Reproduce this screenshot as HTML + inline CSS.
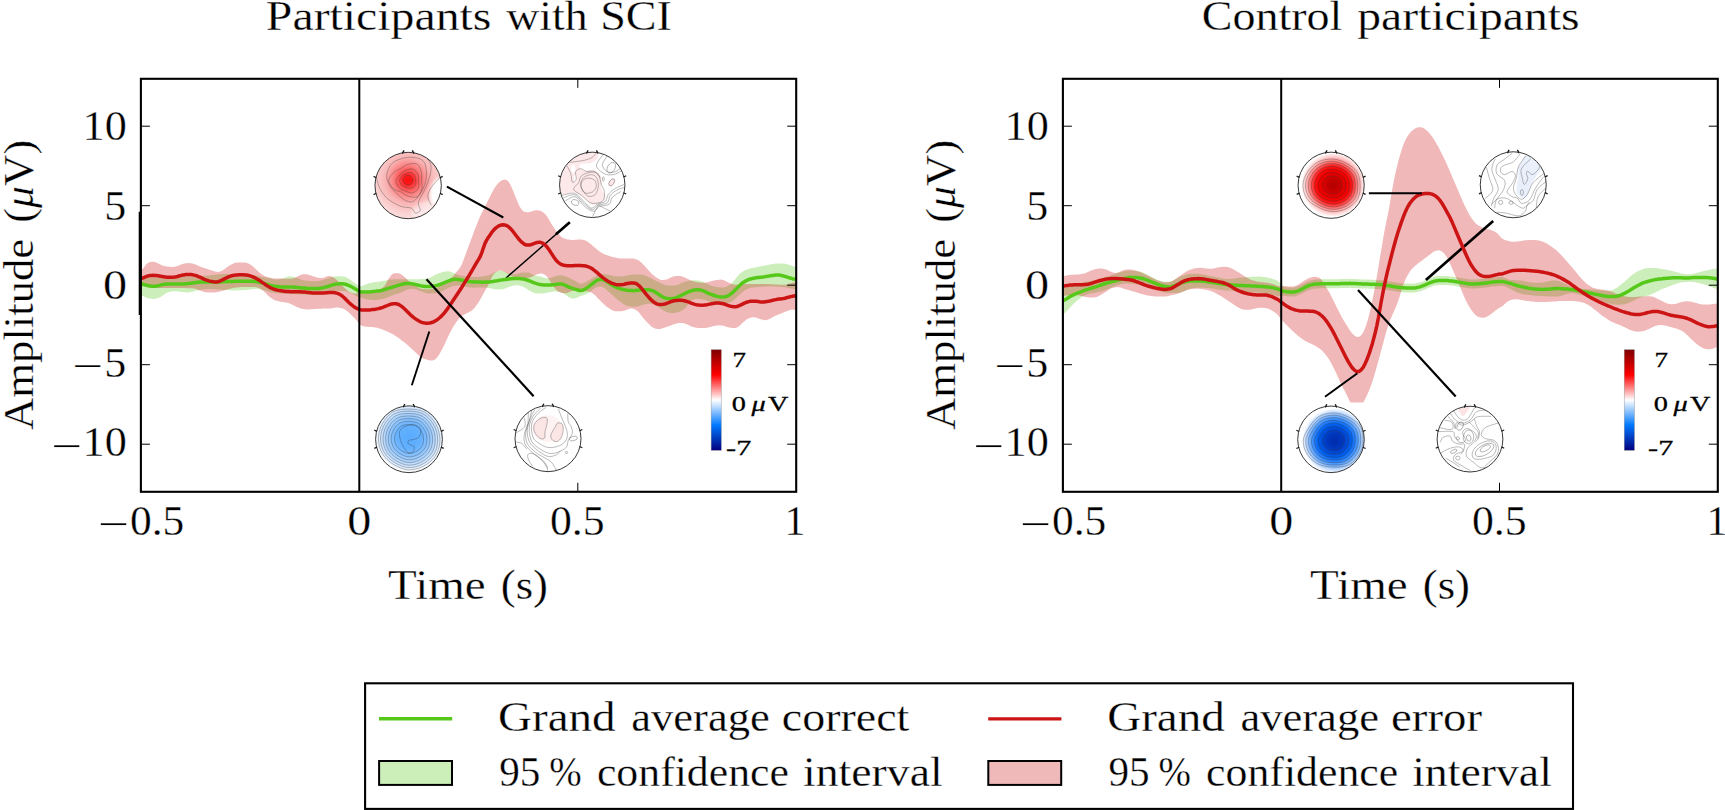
<!DOCTYPE html>
<html lang="en"><head><meta charset="utf-8"><title>ERP grand averages</title>
<style>
html,body{margin:0;padding:0;background:#fff;}
body{width:1725px;height:810px;overflow:hidden;}
svg{display:block;}
text{font-family:"Liberation Serif",serif;fill:#000;stroke:#fff;stroke-width:0.3px;}
.t{font-size:42px;}
.s{font-size:21.5px;stroke:#000;stroke-width:0.3px;}
.i{font-style:italic;}
</style></head><body>
<svg width="1725" height="810" viewBox="0 0 1725 810">
<defs>
<clipPath id="cl"><rect x="140.9" y="78.8" width="655.3" height="413.0"/></clipPath>
<clipPath id="cr"><rect x="1062.9" y="78.8" width="654.9" height="413.0"/></clipPath>
<clipPath id="crb"><rect x="1062.9" y="78.8" width="654.9" height="323.6"/></clipPath>
<linearGradient id="cb" x1="0" y1="0" x2="0" y2="1">
<stop offset="0" stop-color="#7f0000"/><stop offset="0.25" stop-color="#ff0000"/><stop offset="0.5" stop-color="#ffffff"/><stop offset="0.75" stop-color="#0078ff"/><stop offset="1" stop-color="#00007f"/>
</linearGradient>
</defs>
<rect width="1725" height="810" fill="#fff"/>

<g clip-path="url(#cl)">
<path d="M139.9,276.2 L141.4,276.2 L142.9,276.3 L144.4,276.5 L145.9,276.7 L147.4,276.9 L148.9,277.1 L150.4,277.3 L151.9,277.4 L153.4,277.5 L154.9,277.4 L156.4,277.3 L157.9,277.1 L159.4,277.0 L160.9,276.8 L162.4,276.6 L163.9,276.4 L165.4,276.3 L166.9,276.2 L168.4,276.2 L169.9,276.3 L171.4,276.3 L172.9,276.4 L174.4,276.5 L175.9,276.6 L177.4,276.7 L178.9,276.8 L180.4,276.8 L181.9,276.8 L183.4,276.8 L184.9,276.7 L186.4,276.7 L187.9,276.6 L189.4,276.5 L190.9,276.4 L192.4,276.3 L193.9,276.2 L195.4,276.1 L196.9,276.0 L198.4,276.0 L199.9,275.9 L201.4,275.8 L202.9,275.8 L204.4,275.7 L205.9,275.6 L207.4,275.5 L208.9,275.4 L210.4,275.2 L211.9,275.1 L213.4,274.9 L214.9,274.7 L216.4,274.5 L217.9,274.3 L219.4,274.2 L220.9,274.2 L222.4,274.1 L223.9,274.1 L225.4,274.1 L226.9,274.1 L228.4,274.1 L229.9,274.1 L231.4,274.1 L232.9,274.1 L234.4,274.1 L235.9,274.1 L237.4,274.2 L238.9,274.2 L240.4,274.2 L241.9,274.3 L243.4,274.3 L244.9,274.4 L246.4,274.4 L247.9,274.5 L249.4,274.6 L250.9,274.8 L252.4,275.0 L253.9,275.2 L255.4,275.5 L256.9,275.8 L258.4,276.1 L259.9,276.4 L261.4,276.7 L262.9,277.0 L264.4,277.3 L265.9,277.6 L267.4,277.9 L268.9,278.2 L270.4,278.6 L271.9,278.9 L273.4,279.2 L274.9,279.4 L276.4,279.5 L277.9,279.4 L279.4,279.2 L280.9,278.9 L282.4,278.6 L283.9,278.1 L285.4,277.5 L286.9,276.9 L288.4,276.5 L289.9,276.3 L291.4,276.4 L292.9,276.7 L294.4,277.1 L295.9,277.5 L297.4,278.0 L298.9,278.7 L300.4,279.3 L301.9,279.9 L303.4,280.2 L304.9,280.5 L306.4,280.7 L307.9,280.8 L309.4,281.0 L310.9,281.1 L312.4,281.2 L313.9,281.3 L315.4,281.3 L316.9,281.2 L318.4,281.1 L319.9,280.8 L321.4,280.5 L322.9,280.1 L324.4,279.6 L325.9,279.1 L327.4,278.5 L328.9,278.0 L330.4,277.5 L331.9,277.1 L333.4,276.7 L334.9,276.4 L336.4,276.3 L337.9,276.2 L339.4,276.2 L340.9,276.3 L342.4,276.4 L343.9,276.6 L345.4,277.0 L346.9,277.7 L348.4,278.5 L349.9,279.5 L351.4,280.5 L352.9,281.7 L354.4,282.8 L355.9,283.8 L357.4,284.8 L358.9,285.7 L360.4,286.2 L361.9,286.0 L363.4,285.5 L364.9,284.8 L366.4,284.2 L367.9,283.7 L369.4,283.2 L370.9,282.9 L372.4,282.6 L373.9,282.3 L375.4,282.1 L376.9,281.9 L378.4,281.7 L379.9,281.5 L381.4,281.3 L382.9,281.0 L384.4,280.7 L385.9,280.4 L387.4,280.1 L388.9,279.8 L390.4,279.6 L391.9,279.4 L393.4,279.3 L394.9,279.2 L396.4,279.2 L397.9,279.2 L399.4,279.2 L400.9,279.2 L402.4,279.2 L403.9,279.2 L405.4,279.2 L406.9,279.2 L408.4,279.2 L409.9,279.2 L411.4,279.2 L412.9,279.2 L414.4,279.2 L415.9,279.2 L417.4,279.2 L418.9,279.2 L420.4,279.2 L421.9,279.1 L423.4,279.1 L424.9,278.9 L426.4,278.7 L427.9,278.4 L429.4,277.9 L430.9,277.2 L432.4,276.4 L433.9,275.6 L435.4,274.8 L436.9,274.1 L438.4,273.5 L439.9,273.0 L441.4,272.5 L442.9,272.0 L444.4,271.7 L445.9,271.4 L447.4,271.2 L448.9,271.3 L450.4,271.7 L451.9,272.3 L453.4,273.0 L454.9,273.6 L456.4,274.2 L457.9,274.7 L459.4,275.2 L460.9,275.6 L462.4,275.8 L463.9,276.0 L465.4,276.2 L466.9,276.3 L468.4,276.5 L469.9,276.6 L471.4,276.8 L472.9,277.0 L474.4,277.1 L475.9,277.1 L477.4,277.0 L478.9,276.9 L480.4,276.7 L481.9,276.5 L483.4,276.3 L484.9,276.0 L486.4,275.7 L487.9,275.4 L489.4,274.9 L490.9,274.2 L492.4,273.4 L493.9,272.6 L495.4,272.0 L496.9,271.5 L498.4,271.1 L499.9,270.9 L501.4,270.8 L502.9,271.1 L504.4,271.5 L505.9,272.1 L507.4,272.7 L508.9,273.4 L510.4,273.9 L511.9,274.2 L513.4,274.3 L514.9,274.2 L516.4,273.9 L517.9,273.6 L519.4,273.2 L520.9,272.8 L522.4,272.6 L523.9,272.4 L525.4,272.4 L526.9,272.4 L528.4,272.6 L529.9,273.1 L531.4,273.8 L532.9,274.6 L534.4,275.2 L535.9,275.6 L537.4,275.9 L538.9,276.2 L540.4,276.5 L541.9,276.9 L543.4,277.5 L544.9,277.9 L546.4,278.3 L547.9,278.3 L549.4,278.1 L550.9,277.7 L552.4,277.3 L553.9,276.8 L555.4,276.2 L556.9,275.7 L558.4,275.4 L559.9,275.3 L561.4,275.3 L562.9,275.6 L564.4,275.9 L565.9,276.4 L567.4,276.9 L568.9,277.6 L570.4,278.4 L571.9,279.2 L573.4,279.9 L574.9,280.7 L576.4,281.5 L577.9,282.5 L579.4,283.4 L580.9,283.8 L582.4,283.5 L583.9,282.9 L585.4,282.2 L586.9,281.4 L588.4,280.6 L589.9,279.7 L591.4,278.7 L592.9,277.8 L594.4,276.9 L595.9,276.0 L597.4,275.2 L598.9,274.6 L600.4,274.2 L601.9,274.1 L603.4,274.1 L604.9,274.2 L606.4,274.4 L607.9,274.6 L609.4,274.9 L610.9,275.3 L612.4,275.7 L613.9,276.0 L615.4,276.2 L616.9,276.4 L618.4,276.6 L619.9,276.6 L621.4,276.6 L622.9,276.4 L624.4,276.1 L625.9,275.7 L627.4,275.4 L628.9,275.1 L630.4,274.9 L631.9,274.6 L633.4,274.5 L634.9,274.4 L636.4,274.4 L637.9,274.4 L639.4,274.4 L640.9,274.5 L642.4,274.7 L643.9,275.1 L645.4,275.7 L646.9,276.3 L648.4,277.0 L649.9,277.7 L651.4,278.4 L652.9,279.2 L654.4,280.0 L655.9,280.8 L657.4,281.5 L658.9,282.3 L660.4,283.0 L661.9,283.7 L663.4,284.3 L664.9,284.8 L666.4,285.2 L667.9,285.4 L669.4,285.5 L670.9,285.5 L672.4,285.5 L673.9,285.5 L675.4,285.4 L676.9,285.0 L678.4,284.4 L679.9,283.8 L681.4,283.1 L682.9,282.5 L684.4,282.0 L685.9,281.5 L687.4,281.1 L688.9,280.8 L690.4,280.6 L691.9,280.4 L693.4,280.2 L694.9,280.2 L696.4,280.2 L697.9,280.4 L699.4,280.7 L700.9,281.1 L702.4,281.6 L703.9,282.3 L705.4,283.0 L706.9,283.8 L708.4,284.5 L709.9,285.2 L711.4,285.7 L712.9,286.2 L714.4,286.6 L715.9,286.9 L717.4,287.1 L718.9,287.3 L720.4,287.5 L721.9,287.5 L723.4,287.4 L724.9,287.2 L726.4,286.7 L727.9,286.1 L729.4,285.3 L730.9,284.1 L732.4,282.6 L733.9,280.8 L735.4,278.9 L736.9,277.0 L738.4,275.2 L739.9,273.8 L741.4,272.5 L742.9,271.4 L744.4,270.6 L745.9,269.9 L747.4,269.3 L748.9,268.9 L750.4,268.4 L751.9,268.1 L753.4,267.8 L754.9,267.5 L756.4,267.2 L757.9,266.9 L759.4,266.6 L760.9,266.3 L762.4,266.0 L763.9,265.7 L765.4,265.4 L766.9,265.1 L768.4,264.8 L769.9,264.5 L771.4,264.3 L772.9,264.0 L774.4,263.8 L775.9,263.6 L777.4,263.6 L778.9,263.6 L780.4,263.6 L781.9,263.6 L783.4,263.6 L784.9,263.7 L786.4,264.0 L787.9,264.4 L789.4,264.9 L790.9,265.4 L792.4,266.0 L793.9,266.6 L795.4,267.0 L796.9,267.2 L798.4,267.2 L798.4,289.2 L796.9,289.2 L795.4,289.1 L793.9,289.0 L792.4,288.8 L790.9,288.5 L789.4,288.2 L787.9,287.9 L786.4,287.6 L784.9,287.3 L783.4,287.2 L781.9,287.0 L780.4,286.9 L778.9,286.8 L777.4,286.7 L775.9,286.6 L774.4,286.6 L772.9,286.5 L771.4,286.5 L769.9,286.5 L768.4,286.5 L766.9,286.5 L765.4,286.6 L763.9,286.7 L762.4,286.8 L760.9,286.8 L759.4,286.9 L757.9,287.1 L756.4,287.2 L754.9,287.3 L753.4,287.5 L751.9,287.7 L750.4,288.1 L748.9,288.5 L747.4,289.1 L745.9,289.8 L744.4,290.7 L742.9,291.8 L741.4,293.0 L739.9,294.4 L738.4,295.8 L736.9,297.3 L735.4,298.8 L733.9,300.0 L732.4,301.1 L730.9,302.0 L729.4,302.6 L727.9,303.1 L726.4,303.3 L724.9,303.5 L723.4,303.7 L721.9,303.7 L720.4,303.7 L718.9,303.6 L717.4,303.5 L715.9,303.4 L714.4,303.1 L712.9,302.7 L711.4,302.3 L709.9,301.7 L708.4,301.2 L706.9,300.7 L705.4,300.2 L703.9,299.8 L702.4,299.5 L700.9,299.2 L699.4,299.0 L697.9,298.9 L696.4,298.8 L694.9,299.0 L693.4,299.6 L691.9,300.6 L690.4,301.9 L688.9,303.6 L687.4,305.5 L685.9,307.3 L684.4,308.7 L682.9,309.9 L681.4,310.8 L679.9,311.5 L678.4,312.1 L676.9,312.6 L675.4,312.8 L673.9,312.9 L672.4,313.0 L670.9,312.9 L669.4,312.8 L667.9,312.5 L666.4,311.9 L664.9,311.2 L663.4,310.4 L661.9,309.6 L660.4,308.6 L658.9,307.6 L657.4,306.5 L655.9,305.5 L654.4,304.7 L652.9,304.2 L651.4,304.0 L649.9,303.8 L648.4,303.8 L646.9,303.9 L645.4,304.2 L643.9,304.6 L642.4,305.1 L640.9,305.5 L639.4,305.9 L637.9,306.3 L636.4,306.6 L634.9,306.7 L633.4,306.8 L631.9,306.7 L630.4,306.6 L628.9,306.3 L627.4,306.0 L625.9,305.4 L624.4,304.6 L622.9,303.7 L621.4,302.6 L619.9,301.5 L618.4,300.3 L616.9,299.0 L615.4,297.8 L613.9,296.4 L612.4,295.1 L610.9,293.8 L609.4,292.5 L607.9,291.2 L606.4,289.8 L604.9,288.5 L603.4,287.4 L601.9,286.8 L600.4,286.6 L598.9,286.8 L597.4,287.0 L595.9,287.5 L594.4,288.4 L592.9,289.5 L591.4,290.7 L589.9,291.9 L588.4,292.9 L586.9,293.8 L585.4,294.5 L583.9,295.0 L582.4,295.4 L580.9,295.8 L579.4,296.4 L577.9,297.2 L576.4,298.0 L574.9,298.5 L573.4,298.6 L571.9,298.4 L570.4,297.9 L568.9,297.2 L567.4,296.3 L565.9,295.1 L564.4,294.1 L562.9,293.2 L561.4,292.5 L559.9,292.0 L558.4,291.7 L556.9,291.5 L555.4,291.5 L553.9,291.6 L552.4,291.8 L550.9,292.0 L549.4,292.3 L547.9,292.6 L546.4,292.9 L544.9,293.2 L543.4,293.4 L541.9,293.4 L540.4,293.5 L538.9,293.4 L537.4,293.4 L535.9,293.3 L534.4,292.9 L532.9,292.3 L531.4,291.6 L529.9,290.8 L528.4,289.9 L526.9,289.0 L525.4,288.0 L523.9,287.2 L522.4,286.5 L520.9,286.0 L519.4,285.6 L517.9,285.3 L516.4,285.2 L514.9,285.2 L513.4,285.5 L511.9,285.9 L510.4,286.4 L508.9,286.9 L507.4,287.6 L505.9,288.3 L504.4,288.8 L502.9,289.2 L501.4,289.3 L499.9,289.4 L498.4,289.4 L496.9,289.4 L495.4,289.3 L493.9,289.1 L492.4,288.8 L490.9,288.4 L489.4,288.1 L487.9,287.9 L486.4,287.7 L484.9,287.5 L483.4,287.4 L481.9,287.4 L480.4,287.4 L478.9,287.5 L477.4,287.6 L475.9,287.7 L474.4,287.7 L472.9,287.7 L471.4,287.6 L469.9,287.4 L468.4,287.2 L466.9,286.9 L465.4,286.4 L463.9,286.0 L462.4,285.7 L460.9,285.6 L459.4,285.6 L457.9,285.6 L456.4,285.6 L454.9,285.7 L453.4,286.0 L451.9,286.4 L450.4,287.1 L448.9,287.7 L447.4,288.5 L445.9,289.2 L444.4,290.0 L442.9,290.7 L441.4,291.4 L439.9,292.0 L438.4,292.6 L436.9,293.0 L435.4,293.3 L433.9,293.4 L432.4,293.4 L430.9,293.5 L429.4,293.4 L427.9,293.4 L426.4,293.2 L424.9,292.8 L423.4,292.3 L421.9,291.7 L420.4,291.1 L418.9,290.4 L417.4,289.7 L415.9,289.2 L414.4,288.9 L412.9,288.8 L411.4,288.9 L409.9,289.1 L408.4,289.3 L406.9,289.7 L405.4,290.3 L403.9,291.1 L402.4,291.9 L400.9,292.6 L399.4,293.2 L397.9,293.7 L396.4,294.1 L394.9,294.5 L393.4,295.1 L391.9,295.6 L390.4,296.2 L388.9,296.8 L387.4,297.4 L385.9,298.0 L384.4,298.5 L382.9,299.0 L381.4,299.3 L379.9,299.6 L378.4,299.7 L376.9,299.8 L375.4,299.9 L373.9,299.9 L372.4,299.9 L370.9,299.9 L369.4,299.8 L367.9,299.6 L366.4,299.4 L364.9,299.1 L363.4,298.6 L361.9,298.2 L360.4,297.7 L358.9,297.2 L357.4,296.6 L355.9,295.9 L354.4,295.1 L352.9,294.3 L351.4,293.5 L349.9,292.8 L348.4,292.2 L346.9,291.6 L345.4,291.2 L343.9,291.0 L342.4,290.9 L340.9,290.8 L339.4,290.8 L337.9,290.9 L336.4,290.9 L334.9,291.2 L333.4,291.5 L331.9,291.9 L330.4,292.4 L328.9,292.9 L327.4,293.3 L325.9,293.8 L324.4,294.2 L322.9,294.5 L321.4,294.8 L319.9,294.9 L318.4,295.1 L316.9,295.1 L315.4,295.2 L313.9,295.1 L312.4,295.1 L310.9,295.0 L309.4,294.9 L307.9,294.8 L306.4,294.7 L304.9,294.6 L303.4,294.5 L301.9,294.5 L300.4,294.4 L298.9,294.3 L297.4,294.2 L295.9,294.2 L294.4,294.1 L292.9,294.0 L291.4,293.9 L289.9,293.9 L288.4,293.8 L286.9,293.7 L285.4,293.7 L283.9,293.6 L282.4,293.5 L280.9,293.5 L279.4,293.4 L277.9,293.3 L276.4,293.2 L274.9,293.0 L273.4,292.8 L271.9,292.5 L270.4,292.1 L268.9,291.7 L267.4,291.3 L265.9,290.8 L264.4,290.4 L262.9,290.0 L261.4,289.6 L259.9,289.3 L258.4,289.0 L256.9,288.8 L255.4,288.8 L253.9,288.9 L252.4,289.1 L250.9,289.4 L249.4,289.6 L247.9,289.8 L246.4,289.9 L244.9,290.0 L243.4,290.1 L241.9,290.2 L240.4,290.3 L238.9,290.3 L237.4,290.4 L235.9,290.4 L234.4,290.4 L232.9,290.4 L231.4,290.3 L229.9,290.3 L228.4,290.2 L226.9,290.1 L225.4,290.0 L223.9,289.9 L222.4,289.8 L220.9,289.7 L219.4,289.6 L217.9,289.5 L216.4,289.4 L214.9,289.3 L213.4,289.3 L211.9,289.2 L210.4,289.1 L208.9,289.1 L207.4,289.1 L205.9,289.2 L204.4,289.3 L202.9,289.5 L201.4,289.7 L199.9,290.0 L198.4,290.2 L196.9,290.6 L195.4,290.9 L193.9,291.2 L192.4,291.6 L190.9,291.9 L189.4,292.2 L187.9,292.4 L186.4,292.4 L184.9,292.3 L183.4,292.1 L181.9,291.9 L180.4,291.7 L178.9,291.5 L177.4,291.4 L175.9,291.2 L174.4,291.2 L172.9,291.2 L171.4,291.4 L169.9,291.7 L168.4,292.2 L166.9,292.8 L165.4,293.6 L163.9,294.7 L162.4,295.8 L160.9,296.8 L159.4,297.5 L157.9,298.1 L156.4,298.5 L154.9,298.8 L153.4,298.9 L151.9,298.8 L150.4,298.6 L148.9,298.4 L147.4,297.9 L145.9,297.4 L144.4,296.6 L142.9,295.9 L141.4,295.4 L139.9,295.2Z" fill="#55c81a" fill-opacity="0.3"/>
<path d="M139.9,270.6 L141.4,270.1 L142.9,268.8 L144.4,266.7 L145.9,264.7 L147.4,263.3 L148.9,262.5 L150.4,262.0 L151.9,261.8 L153.4,261.7 L154.9,262.0 L156.4,262.5 L157.9,263.3 L159.4,264.1 L160.9,264.8 L162.4,265.4 L163.9,265.9 L165.4,266.3 L166.9,266.6 L168.4,266.7 L169.9,266.8 L171.4,266.9 L172.9,266.9 L174.4,266.8 L175.9,266.5 L177.4,265.9 L178.9,265.4 L180.4,264.8 L181.9,264.3 L183.4,263.8 L184.9,263.4 L186.4,263.2 L187.9,263.1 L189.4,263.2 L190.9,263.3 L192.4,263.6 L193.9,263.9 L195.4,264.4 L196.9,265.0 L198.4,265.7 L199.9,266.4 L201.4,267.0 L202.9,267.5 L204.4,268.0 L205.9,268.5 L207.4,269.0 L208.9,269.5 L210.4,270.0 L211.9,270.5 L213.4,271.0 L214.9,271.4 L216.4,271.7 L217.9,271.9 L219.4,271.8 L220.9,271.3 L222.4,270.5 L223.9,269.5 L225.4,268.5 L226.9,267.3 L228.4,266.2 L229.9,265.2 L231.4,264.4 L232.9,263.7 L234.4,263.1 L235.9,262.8 L237.4,262.6 L238.9,262.4 L240.4,262.4 L241.9,262.4 L243.4,262.4 L244.9,262.6 L246.4,262.8 L247.9,263.3 L249.4,264.0 L250.9,264.9 L252.4,266.0 L253.9,267.3 L255.4,268.7 L256.9,270.2 L258.4,271.6 L259.9,272.9 L261.4,274.1 L262.9,275.1 L264.4,275.9 L265.9,276.5 L267.4,277.0 L268.9,277.5 L270.4,277.8 L271.9,278.1 L273.4,278.4 L274.9,278.5 L276.4,278.6 L277.9,278.6 L279.4,278.6 L280.9,278.6 L282.4,278.6 L283.9,278.7 L285.4,278.7 L286.9,278.8 L288.4,278.8 L289.9,278.8 L291.4,278.7 L292.9,278.4 L294.4,278.0 L295.9,277.4 L297.4,276.6 L298.9,275.7 L300.4,275.0 L301.9,274.6 L303.4,274.3 L304.9,274.2 L306.4,274.3 L307.9,274.6 L309.4,275.0 L310.9,275.5 L312.4,276.0 L313.9,276.6 L315.4,277.1 L316.9,277.5 L318.4,277.8 L319.9,278.0 L321.4,278.1 L322.9,277.8 L324.4,277.4 L325.9,276.8 L327.4,276.3 L328.9,276.1 L330.4,276.2 L331.9,276.6 L333.4,277.4 L334.9,278.5 L336.4,279.7 L337.9,281.1 L339.4,282.6 L340.9,284.2 L342.4,285.8 L343.9,287.3 L345.4,288.8 L346.9,290.1 L348.4,291.2 L349.9,292.2 L351.4,292.8 L352.9,293.3 L354.4,293.5 L355.9,293.5 L357.4,293.1 L358.9,292.1 L360.4,291.2 L361.9,290.8 L363.4,290.7 L364.9,290.7 L366.4,290.7 L367.9,290.7 L369.4,290.7 L370.9,290.7 L372.4,290.7 L373.9,290.7 L375.4,290.5 L376.9,290.2 L378.4,289.8 L379.9,289.2 L381.4,288.5 L382.9,287.5 L384.4,286.0 L385.9,283.8 L387.4,281.0 L388.9,278.3 L390.4,276.2 L391.9,274.6 L393.4,273.6 L394.9,273.2 L396.4,273.2 L397.9,273.3 L399.4,273.6 L400.9,274.2 L402.4,275.2 L403.9,276.4 L405.4,277.8 L406.9,279.2 L408.4,280.7 L409.9,282.0 L411.4,283.2 L412.9,284.3 L414.4,285.3 L415.9,286.3 L417.4,287.1 L418.9,287.9 L420.4,288.4 L421.9,288.8 L423.4,289.0 L424.9,289.2 L426.4,289.3 L427.9,289.3 L429.4,289.3 L430.9,289.1 L432.4,288.8 L433.9,288.5 L435.4,288.1 L436.9,287.7 L438.4,287.1 L439.9,286.4 L441.4,285.6 L442.9,284.7 L444.4,283.8 L445.9,282.7 L447.4,281.6 L448.9,280.3 L450.4,279.0 L451.9,277.5 L453.4,275.8 L454.9,274.0 L456.4,272.1 L457.9,270.4 L459.4,268.6 L460.9,266.3 L462.4,262.9 L463.9,258.9 L465.4,254.8 L466.9,250.7 L468.4,246.7 L469.9,242.7 L471.4,238.7 L472.9,234.7 L474.4,230.6 L475.9,226.7 L477.4,222.9 L478.9,219.3 L480.4,215.9 L481.9,212.7 L483.4,209.7 L484.9,206.7 L486.4,203.7 L487.9,200.7 L489.4,197.7 L490.9,194.7 L492.4,191.8 L493.9,189.1 L495.4,186.8 L496.9,184.8 L498.4,183.1 L499.9,181.7 L501.4,180.6 L502.9,179.9 L504.4,179.6 L505.9,179.8 L507.4,180.6 L508.9,182.2 L510.4,184.7 L511.9,187.9 L513.4,191.6 L514.9,195.4 L516.4,199.1 L517.9,202.8 L519.4,206.0 L520.9,208.6 L522.4,210.4 L523.9,211.5 L525.4,212.1 L526.9,212.2 L528.4,212.2 L529.9,211.9 L531.4,211.4 L532.9,210.9 L534.4,210.5 L535.9,210.2 L537.4,210.2 L538.9,210.4 L540.4,210.8 L541.9,211.5 L543.4,212.5 L544.9,213.8 L546.4,215.6 L547.9,217.8 L549.4,220.3 L550.9,222.9 L552.4,225.4 L553.9,227.8 L555.4,230.0 L556.9,232.1 L558.4,233.9 L559.9,235.6 L561.4,237.0 L562.9,238.0 L564.4,238.6 L565.9,239.1 L567.4,239.4 L568.9,239.6 L570.4,239.8 L571.9,239.9 L573.4,239.9 L574.9,239.8 L576.4,239.7 L577.9,239.5 L579.4,239.5 L580.9,239.5 L582.4,239.7 L583.9,240.1 L585.4,240.6 L586.9,241.3 L588.4,242.3 L589.9,243.4 L591.4,244.6 L592.9,245.9 L594.4,247.2 L595.9,248.5 L597.4,249.8 L598.9,250.9 L600.4,252.0 L601.9,253.0 L603.4,253.8 L604.9,254.5 L606.4,255.1 L607.9,255.6 L609.4,256.1 L610.9,256.6 L612.4,257.0 L613.9,257.3 L615.4,257.6 L616.9,257.9 L618.4,258.2 L619.9,258.4 L621.4,258.5 L622.9,258.6 L624.4,258.6 L625.9,258.5 L627.4,258.5 L628.9,258.4 L630.4,258.4 L631.9,258.5 L633.4,258.6 L634.9,258.9 L636.4,259.4 L637.9,260.1 L639.4,261.0 L640.9,262.2 L642.4,263.6 L643.9,265.1 L645.4,266.8 L646.9,268.5 L648.4,270.2 L649.9,271.8 L651.4,273.4 L652.9,274.8 L654.4,276.1 L655.9,277.2 L657.4,278.3 L658.9,279.1 L660.4,279.7 L661.9,280.0 L663.4,279.9 L664.9,279.8 L666.4,279.4 L667.9,278.9 L669.4,278.2 L670.9,277.5 L672.4,276.8 L673.9,276.4 L675.4,276.1 L676.9,275.9 L678.4,275.9 L679.9,276.0 L681.4,276.3 L682.9,276.7 L684.4,277.3 L685.9,278.0 L687.4,278.8 L688.9,279.5 L690.4,280.2 L691.9,280.7 L693.4,281.2 L694.9,281.7 L696.4,282.0 L697.9,282.3 L699.4,282.5 L700.9,282.7 L702.4,282.7 L703.9,282.8 L705.4,282.7 L706.9,282.4 L708.4,282.1 L709.9,281.6 L711.4,281.2 L712.9,280.8 L714.4,280.4 L715.9,280.1 L717.4,279.9 L718.9,279.7 L720.4,279.6 L721.9,279.7 L723.4,280.1 L724.9,280.7 L726.4,281.4 L727.9,282.2 L729.4,282.9 L730.9,283.6 L732.4,284.2 L733.9,284.5 L735.4,284.7 L736.9,284.8 L738.4,284.7 L739.9,284.6 L741.4,284.4 L742.9,284.2 L744.4,284.2 L745.9,284.1 L747.4,284.1 L748.9,284.0 L750.4,284.0 L751.9,284.0 L753.4,283.9 L754.9,283.9 L756.4,283.9 L757.9,283.9 L759.4,283.9 L760.9,284.0 L762.4,284.0 L763.9,284.0 L765.4,284.1 L766.9,284.1 L768.4,284.1 L769.9,284.2 L771.4,284.3 L772.9,284.3 L774.4,284.4 L775.9,284.5 L777.4,284.6 L778.9,284.7 L780.4,284.8 L781.9,284.8 L783.4,284.8 L784.9,284.7 L786.4,284.5 L787.9,284.1 L789.4,283.6 L790.9,283.2 L792.4,282.8 L793.9,282.4 L795.4,282.3 L796.9,282.2 L798.4,282.2 L798.4,310.0 L796.9,310.0 L795.4,309.9 L793.9,309.8 L792.4,309.7 L790.9,309.8 L789.4,310.2 L787.9,310.7 L786.4,311.3 L784.9,312.0 L783.4,312.6 L781.9,313.2 L780.4,313.8 L778.9,314.4 L777.4,315.0 L775.9,315.6 L774.4,316.3 L772.9,317.1 L771.4,318.0 L769.9,318.7 L768.4,319.4 L766.9,319.9 L765.4,320.2 L763.9,320.1 L762.4,319.8 L760.9,319.3 L759.4,318.7 L757.9,318.2 L756.4,317.7 L754.9,317.3 L753.4,317.2 L751.9,317.4 L750.4,317.7 L748.9,318.3 L747.4,319.0 L745.9,320.0 L744.4,321.3 L742.9,322.6 L741.4,324.1 L739.9,325.5 L738.4,326.6 L736.9,327.4 L735.4,327.9 L733.9,328.0 L732.4,328.0 L730.9,327.8 L729.4,327.5 L727.9,327.2 L726.4,326.7 L724.9,326.2 L723.4,325.8 L721.9,325.5 L720.4,325.4 L718.9,325.3 L717.4,325.4 L715.9,325.6 L714.4,325.9 L712.9,326.3 L711.4,326.7 L709.9,327.1 L708.4,327.4 L706.9,327.7 L705.4,327.9 L703.9,328.1 L702.4,328.1 L700.9,328.1 L699.4,328.1 L697.9,328.0 L696.4,327.8 L694.9,327.5 L693.4,327.1 L691.9,326.7 L690.4,326.0 L688.9,325.3 L687.4,324.5 L685.9,323.9 L684.4,323.4 L682.9,323.1 L681.4,322.9 L679.9,322.9 L678.4,323.0 L676.9,323.4 L675.4,323.8 L673.9,324.2 L672.4,324.8 L670.9,325.4 L669.4,325.9 L667.9,326.5 L666.4,327.1 L664.9,327.6 L663.4,328.1 L661.9,328.6 L660.4,328.9 L658.9,329.1 L657.4,329.0 L655.9,328.7 L654.4,328.2 L652.9,327.5 L651.4,326.4 L649.9,325.1 L648.4,323.6 L646.9,322.1 L645.4,320.4 L643.9,318.7 L642.4,316.9 L640.9,315.0 L639.4,313.1 L637.9,311.5 L636.4,310.3 L634.9,309.4 L633.4,308.7 L631.9,308.5 L630.4,308.6 L628.9,309.0 L627.4,309.5 L625.9,310.0 L624.4,310.5 L622.9,310.9 L621.4,311.2 L619.9,311.3 L618.4,311.3 L616.9,311.3 L615.4,311.2 L613.9,310.9 L612.4,310.3 L610.9,309.5 L609.4,308.5 L607.9,307.5 L606.4,306.4 L604.9,305.1 L603.4,303.8 L601.9,302.3 L600.4,300.8 L598.9,299.2 L597.4,297.7 L595.9,296.1 L594.4,294.7 L592.9,293.6 L591.4,292.6 L589.9,291.9 L588.4,291.4 L586.9,291.3 L585.4,291.2 L583.9,291.2 L582.4,291.2 L580.9,291.1 L579.4,290.7 L577.9,290.2 L576.4,289.9 L574.9,290.0 L573.4,290.4 L571.9,290.9 L570.4,291.6 L568.9,292.3 L567.4,293.0 L565.9,293.3 L564.4,293.3 L562.9,293.1 L561.4,292.8 L559.9,292.2 L558.4,291.5 L556.9,290.4 L555.4,289.0 L553.9,287.1 L552.4,284.9 L550.9,282.5 L549.4,280.0 L547.9,277.7 L546.4,275.9 L544.9,274.7 L543.4,274.0 L541.9,273.6 L540.4,273.6 L538.9,273.8 L537.4,274.2 L535.9,274.8 L534.4,275.5 L532.9,276.3 L531.4,276.9 L529.9,277.4 L528.4,277.8 L526.9,278.1 L525.4,278.3 L523.9,278.4 L522.4,278.5 L520.9,278.4 L519.4,278.2 L517.9,278.0 L516.4,277.6 L514.9,277.3 L513.4,276.8 L511.9,276.3 L510.4,275.5 L508.9,274.6 L507.4,273.6 L505.9,272.6 L504.4,271.7 L502.9,271.0 L501.4,270.6 L499.9,270.6 L498.4,270.9 L496.9,271.5 L495.4,272.4 L493.9,274.0 L492.4,276.3 L490.9,279.2 L489.4,282.5 L487.9,285.7 L486.4,288.5 L484.9,291.1 L483.4,293.8 L481.9,296.6 L480.4,299.3 L478.9,301.7 L477.4,304.0 L475.9,306.0 L474.4,307.9 L472.9,309.4 L471.4,310.7 L469.9,311.7 L468.4,312.5 L466.9,313.2 L465.4,313.9 L463.9,314.7 L462.4,315.6 L460.9,316.8 L459.4,318.2 L457.9,319.9 L456.4,321.9 L454.9,324.2 L453.4,326.6 L451.9,329.3 L450.4,332.1 L448.9,335.1 L447.4,338.3 L445.9,341.5 L444.4,344.7 L442.9,347.7 L441.4,350.6 L439.9,353.3 L438.4,355.7 L436.9,357.7 L435.4,359.2 L433.9,360.1 L432.4,360.5 L430.9,360.4 L429.4,360.2 L427.9,359.9 L426.4,359.5 L424.9,359.0 L423.4,358.4 L421.9,357.6 L420.4,356.7 L418.9,355.5 L417.4,354.2 L415.9,352.7 L414.4,351.3 L412.9,349.9 L411.4,348.5 L409.9,347.2 L408.4,345.8 L406.9,344.5 L405.4,343.3 L403.9,342.1 L402.4,340.9 L400.9,339.8 L399.4,338.6 L397.9,337.5 L396.4,336.5 L394.9,335.5 L393.4,334.6 L391.9,333.8 L390.4,333.0 L388.9,332.3 L387.4,331.6 L385.9,330.9 L384.4,330.3 L382.9,329.7 L381.4,329.1 L379.9,328.6 L378.4,328.2 L376.9,327.8 L375.4,327.5 L373.9,327.2 L372.4,327.1 L370.9,327.0 L369.4,326.9 L367.9,326.8 L366.4,326.7 L364.9,326.5 L363.4,326.2 L361.9,325.8 L360.4,325.0 L358.9,323.5 L357.4,321.5 L355.9,319.5 L354.4,317.9 L352.9,316.4 L351.4,315.0 L349.9,313.6 L348.4,312.3 L346.9,310.9 L345.4,309.8 L343.9,309.0 L342.4,308.4 L340.9,308.0 L339.4,307.7 L337.9,307.5 L336.4,307.5 L334.9,307.7 L333.4,307.9 L331.9,308.2 L330.4,308.4 L328.9,308.5 L327.4,308.6 L325.9,308.6 L324.4,308.6 L322.9,308.6 L321.4,308.7 L319.9,308.7 L318.4,308.7 L316.9,308.8 L315.4,308.9 L313.9,309.0 L312.4,309.2 L310.9,309.3 L309.4,309.4 L307.9,309.4 L306.4,309.3 L304.9,309.2 L303.4,309.0 L301.9,308.8 L300.4,308.4 L298.9,307.8 L297.4,307.2 L295.9,306.6 L294.4,305.8 L292.9,305.0 L291.4,304.3 L289.9,303.6 L288.4,303.1 L286.9,302.8 L285.4,302.5 L283.9,302.2 L282.4,302.0 L280.9,301.7 L279.4,301.5 L277.9,301.1 L276.4,300.7 L274.9,300.2 L273.4,299.4 L271.9,298.5 L270.4,297.5 L268.9,296.3 L267.4,294.9 L265.9,293.3 L264.4,291.8 L262.9,290.4 L261.4,289.4 L259.9,288.5 L258.4,287.8 L256.9,287.4 L255.4,287.1 L253.9,287.1 L252.4,287.0 L250.9,287.0 L249.4,287.0 L247.9,287.0 L246.4,287.0 L244.9,287.0 L243.4,287.0 L241.9,287.1 L240.4,287.1 L238.9,287.2 L237.4,287.4 L235.9,287.6 L234.4,287.8 L232.9,288.1 L231.4,288.4 L229.9,288.7 L228.4,289.1 L226.9,289.5 L225.4,289.9 L223.9,290.4 L222.4,290.8 L220.9,291.2 L219.4,291.6 L217.9,292.0 L216.4,292.2 L214.9,292.4 L213.4,292.5 L211.9,292.5 L210.4,292.5 L208.9,292.4 L207.4,292.4 L205.9,292.2 L204.4,291.9 L202.9,291.6 L201.4,291.1 L199.9,290.6 L198.4,289.9 L196.9,289.3 L195.4,288.7 L193.9,288.5 L192.4,288.3 L190.9,288.3 L189.4,288.2 L187.9,288.2 L186.4,288.2 L184.9,288.1 L183.4,288.1 L181.9,288.1 L180.4,288.1 L178.9,288.1 L177.4,288.1 L175.9,288.1 L174.4,288.1 L172.9,288.1 L171.4,288.1 L169.9,288.1 L168.4,288.1 L166.9,288.1 L165.4,288.1 L163.9,288.1 L162.4,288.1 L160.9,288.1 L159.4,288.1 L157.9,288.1 L156.4,288.1 L154.9,288.1 L153.4,288.1 L151.9,288.0 L150.4,287.8 L148.9,287.5 L147.4,287.1 L145.9,286.6 L144.4,286.0 L142.9,285.5 L141.4,285.2 L139.9,285.0Z" fill="#cc1414" fill-opacity="0.3"/>
</g>
<line x1="140.9" y1="126.2" x2="149.9" y2="126.2" stroke="#000" stroke-width="1"/>
<line x1="796.2" y1="126.2" x2="787.2" y2="126.2" stroke="#000" stroke-width="1"/>
<line x1="140.9" y1="205.7" x2="149.9" y2="205.7" stroke="#000" stroke-width="1"/>
<line x1="796.2" y1="205.7" x2="787.2" y2="205.7" stroke="#000" stroke-width="1"/>
<line x1="140.9" y1="285.2" x2="149.9" y2="285.2" stroke="#000" stroke-width="1"/>
<line x1="796.2" y1="285.2" x2="787.2" y2="285.2" stroke="#000" stroke-width="1"/>
<line x1="140.9" y1="364.7" x2="149.9" y2="364.7" stroke="#000" stroke-width="1"/>
<line x1="796.2" y1="364.7" x2="787.2" y2="364.7" stroke="#000" stroke-width="1"/>
<line x1="140.9" y1="444.2" x2="149.9" y2="444.2" stroke="#000" stroke-width="1"/>
<line x1="796.2" y1="444.2" x2="787.2" y2="444.2" stroke="#000" stroke-width="1"/>
<line x1="577.8" y1="491.8" x2="577.8" y2="482.8" stroke="#000" stroke-width="1"/>
<line x1="577.8" y1="78.8" x2="577.8" y2="87.8" stroke="#000" stroke-width="1"/>
<line x1="569.8" y1="222.3" x2="506" y2="278" stroke="#000" stroke-width="1.4"/>
<line x1="569.8" y1="222.3" x2="556" y2="234.3" stroke="#000" stroke-width="2.7"/>
<g clip-path="url(#cl)">
<path d="M139.9,283.9 L141.4,284.0 L142.9,284.3 L144.4,284.7 L145.9,285.1 L147.4,285.5 L148.9,285.8 L150.4,286.0 L151.9,286.2 L153.4,286.3 L154.9,286.2 L156.4,286.1 L157.9,285.8 L159.4,285.4 L160.9,284.9 L162.4,284.6 L163.9,284.3 L165.4,284.2 L166.9,284.1 L168.4,284.1 L169.9,284.1 L171.4,284.0 L172.9,284.0 L174.4,284.0 L175.9,284.0 L177.4,284.0 L178.9,284.0 L180.4,284.0 L181.9,284.0 L183.4,283.9 L184.9,283.8 L186.4,283.7 L187.9,283.6 L189.4,283.4 L190.9,283.2 L192.4,283.0 L193.9,282.8 L195.4,282.6 L196.9,282.4 L198.4,282.2 L199.9,282.1 L201.4,282.0 L202.9,282.0 L204.4,282.0 L205.9,282.0 L207.4,282.0 L208.9,282.0 L210.4,282.0 L211.9,282.0 L213.4,282.0 L214.9,282.0 L216.4,282.0 L217.9,281.9 L219.4,281.9 L220.9,281.8 L222.4,281.7 L223.9,281.6 L225.4,281.6 L226.9,281.5 L228.4,281.5 L229.9,281.4 L231.4,281.4 L232.9,281.4 L234.4,281.3 L235.9,281.3 L237.4,281.3 L238.9,281.3 L240.4,281.3 L241.9,281.3 L243.4,281.3 L244.9,281.3 L246.4,281.3 L247.9,281.3 L249.4,281.3 L250.9,281.3 L252.4,281.3 L253.9,281.4 L255.4,281.5 L256.9,281.7 L258.4,282.0 L259.9,282.4 L261.4,282.7 L262.9,283.1 L264.4,283.5 L265.9,284.0 L267.4,284.5 L268.9,284.9 L270.4,285.4 L271.9,285.7 L273.4,286.0 L274.9,286.2 L276.4,286.4 L277.9,286.6 L279.4,286.8 L280.9,286.9 L282.4,287.0 L283.9,287.0 L285.4,287.0 L286.9,287.0 L288.4,287.0 L289.9,287.0 L291.4,287.0 L292.9,287.1 L294.4,287.2 L295.9,287.3 L297.4,287.4 L298.9,287.6 L300.4,287.7 L301.9,287.9 L303.4,288.0 L304.9,288.1 L306.4,288.3 L307.9,288.4 L309.4,288.4 L310.9,288.5 L312.4,288.6 L313.9,288.6 L315.4,288.6 L316.9,288.6 L318.4,288.5 L319.9,288.3 L321.4,288.1 L322.9,287.8 L324.4,287.4 L325.9,287.0 L327.4,286.5 L328.9,286.1 L330.4,285.6 L331.9,285.1 L333.4,284.7 L334.9,284.3 L336.4,284.0 L337.9,283.9 L339.4,283.8 L340.9,283.7 L342.4,283.7 L343.9,283.9 L345.4,284.3 L346.9,284.7 L348.4,285.3 L349.9,286.0 L351.4,286.7 L352.9,287.5 L354.4,288.4 L355.9,289.3 L357.4,290.2 L358.9,291.2 L360.4,291.8 L361.9,292.0 L363.4,292.1 L364.9,292.1 L366.4,292.1 L367.9,292.0 L369.4,291.9 L370.9,291.7 L372.4,291.6 L373.9,291.4 L375.4,291.3 L376.9,291.1 L378.4,291.0 L379.9,290.8 L381.4,290.5 L382.9,290.1 L384.4,289.6 L385.9,289.1 L387.4,288.6 L388.9,288.2 L390.4,287.7 L391.9,287.3 L393.4,286.8 L394.9,286.4 L396.4,285.9 L397.9,285.4 L399.4,285.0 L400.9,284.6 L402.4,284.2 L403.9,283.8 L405.4,283.6 L406.9,283.4 L408.4,283.4 L409.9,283.5 L411.4,283.7 L412.9,284.0 L414.4,284.3 L415.9,284.6 L417.4,285.0 L418.9,285.4 L420.4,285.8 L421.9,286.1 L423.4,286.3 L424.9,286.5 L426.4,286.6 L427.9,286.6 L429.4,286.6 L430.9,286.5 L432.4,286.3 L433.9,286.1 L435.4,285.8 L436.9,285.4 L438.4,285.0 L439.9,284.5 L441.4,283.9 L442.9,283.3 L444.4,282.7 L445.9,282.0 L447.4,281.3 L448.9,280.8 L450.4,280.2 L451.9,279.8 L453.4,279.5 L454.9,279.3 L456.4,279.3 L457.9,279.5 L459.4,279.7 L460.9,280.0 L462.4,280.3 L463.9,280.6 L465.4,280.9 L466.9,281.2 L468.4,281.4 L469.9,281.6 L471.4,281.7 L472.9,281.8 L474.4,281.9 L475.9,281.9 L477.4,282.0 L478.9,282.1 L480.4,282.1 L481.9,282.2 L483.4,282.2 L484.9,282.1 L486.4,282.1 L487.9,282.0 L489.4,281.9 L490.9,281.7 L492.4,281.5 L493.9,281.3 L495.4,281.0 L496.9,280.8 L498.4,280.5 L499.9,280.3 L501.4,280.1 L502.9,279.8 L504.4,279.6 L505.9,279.4 L507.4,279.2 L508.9,279.0 L510.4,278.8 L511.9,278.7 L513.4,278.6 L514.9,278.6 L516.4,278.5 L517.9,278.6 L519.4,278.6 L520.9,278.8 L522.4,278.9 L523.9,279.1 L525.4,279.5 L526.9,280.0 L528.4,280.5 L529.9,281.0 L531.4,281.6 L532.9,282.3 L534.4,282.9 L535.9,283.4 L537.4,283.9 L538.9,284.2 L540.4,284.5 L541.9,284.7 L543.4,284.9 L544.9,284.9 L546.4,285.0 L547.9,285.0 L549.4,285.0 L550.9,285.0 L552.4,284.8 L553.9,284.7 L555.4,284.4 L556.9,284.2 L558.4,284.0 L559.9,283.9 L561.4,283.9 L562.9,284.3 L564.4,285.0 L565.9,285.7 L567.4,286.4 L568.9,287.1 L570.4,287.7 L571.9,288.2 L573.4,288.7 L574.9,289.1 L576.4,289.5 L577.9,290.0 L579.4,290.5 L580.9,290.6 L582.4,290.3 L583.9,289.7 L585.4,288.9 L586.9,287.9 L588.4,286.8 L589.9,285.6 L591.4,284.5 L592.9,283.3 L594.4,282.1 L595.9,281.1 L597.4,280.2 L598.9,279.6 L600.4,279.3 L601.9,279.4 L603.4,279.8 L604.9,280.4 L606.4,281.2 L607.9,282.2 L609.4,283.2 L610.9,284.2 L612.4,285.2 L613.9,286.1 L615.4,286.9 L616.9,287.6 L618.4,288.2 L619.9,288.7 L621.4,289.1 L622.9,289.5 L624.4,289.8 L625.9,290.1 L627.4,290.3 L628.9,290.4 L630.4,290.5 L631.9,290.6 L633.4,290.7 L634.9,290.6 L636.4,290.5 L637.9,290.3 L639.4,290.1 L640.9,289.9 L642.4,289.8 L643.9,289.7 L645.4,289.7 L646.9,289.7 L648.4,289.8 L649.9,290.0 L651.4,290.4 L652.9,290.9 L654.4,291.6 L655.9,292.5 L657.4,293.5 L658.9,294.5 L660.4,295.5 L661.9,296.5 L663.4,297.3 L664.9,297.9 L666.4,298.3 L667.9,298.6 L669.4,298.7 L670.9,298.7 L672.4,298.5 L673.9,298.3 L675.4,297.9 L676.9,297.4 L678.4,296.7 L679.9,296.0 L681.4,295.3 L682.9,294.5 L684.4,293.8 L685.9,293.0 L687.4,292.3 L688.9,291.7 L690.4,291.1 L691.9,290.6 L693.4,290.2 L694.9,289.9 L696.4,289.7 L697.9,289.7 L699.4,289.9 L700.9,290.1 L702.4,290.5 L703.9,291.1 L705.4,291.8 L706.9,292.6 L708.4,293.3 L709.9,293.9 L711.4,294.5 L712.9,295.0 L714.4,295.5 L715.9,296.0 L717.4,296.4 L718.9,296.7 L720.4,296.9 L721.9,297.0 L723.4,297.0 L724.9,296.8 L726.4,296.4 L727.9,295.8 L729.4,294.9 L730.9,293.9 L732.4,292.6 L733.9,291.2 L735.4,289.7 L736.9,288.2 L738.4,286.7 L739.9,285.2 L741.4,283.9 L742.9,282.7 L744.4,281.7 L745.9,280.8 L747.4,280.1 L748.9,279.5 L750.4,279.0 L751.9,278.6 L753.4,278.2 L754.9,278.0 L756.4,277.7 L757.9,277.5 L759.4,277.4 L760.9,277.2 L762.4,277.1 L763.9,276.9 L765.4,276.6 L766.9,276.4 L768.4,276.1 L769.9,275.9 L771.4,275.6 L772.9,275.4 L774.4,275.2 L775.9,275.1 L777.4,275.0 L778.9,275.1 L780.4,275.3 L781.9,275.6 L783.4,276.0 L784.9,276.4 L786.4,276.8 L787.9,277.3 L789.4,277.8 L790.9,278.2 L792.4,278.7 L793.9,279.1 L795.4,279.3 L796.9,279.4 L798.4,279.4" fill="none" stroke="#55c81a" stroke-width="3.5" stroke-linejoin="round"/>
<path d="M139.9,278.6 L141.4,278.4 L142.9,278.0 L144.4,277.3 L145.9,276.7 L147.4,276.1 L148.9,275.8 L150.4,275.5 L151.9,275.4 L153.4,275.3 L154.9,275.4 L156.4,275.5 L157.9,275.7 L159.4,276.0 L160.9,276.3 L162.4,276.6 L163.9,276.8 L165.4,277.1 L166.9,277.2 L168.4,277.2 L169.9,277.3 L171.4,277.3 L172.9,277.2 L174.4,277.1 L175.9,276.9 L177.4,276.5 L178.9,276.0 L180.4,275.6 L181.9,275.3 L183.4,275.0 L184.9,274.7 L186.4,274.5 L187.9,274.5 L189.4,274.5 L190.9,274.6 L192.4,274.8 L193.9,275.1 L195.4,275.4 L196.9,275.9 L198.4,276.6 L199.9,277.2 L201.4,277.9 L202.9,278.6 L204.4,279.3 L205.9,279.9 L207.4,280.4 L208.9,280.9 L210.4,281.3 L211.9,281.6 L213.4,281.8 L214.9,281.9 L216.4,281.9 L217.9,281.7 L219.4,281.3 L220.9,280.7 L222.4,279.9 L223.9,279.1 L225.4,278.3 L226.9,277.6 L228.4,276.9 L229.9,276.3 L231.4,275.8 L232.9,275.5 L234.4,275.2 L235.9,275.0 L237.4,274.9 L238.9,274.8 L240.4,274.8 L241.9,274.8 L243.4,274.8 L244.9,274.9 L246.4,275.0 L247.9,275.3 L249.4,275.6 L250.9,276.1 L252.4,276.6 L253.9,277.3 L255.4,278.0 L256.9,278.9 L258.4,279.8 L259.9,280.8 L261.4,281.8 L262.9,282.9 L264.4,283.9 L265.9,285.0 L267.4,285.9 L268.9,286.9 L270.4,287.7 L271.9,288.4 L273.4,289.0 L274.9,289.5 L276.4,289.9 L277.9,290.3 L279.4,290.6 L280.9,290.8 L282.4,291.0 L283.9,291.2 L285.4,291.4 L286.9,291.5 L288.4,291.6 L289.9,291.7 L291.4,291.8 L292.9,291.8 L294.4,291.8 L295.9,291.8 L297.4,291.8 L298.9,291.8 L300.4,291.8 L301.9,291.9 L303.4,292.0 L304.9,292.1 L306.4,292.3 L307.9,292.4 L309.4,292.6 L310.9,292.7 L312.4,292.9 L313.9,292.9 L315.4,293.0 L316.9,293.1 L318.4,293.1 L319.9,293.1 L321.4,293.0 L322.9,293.0 L324.4,292.9 L325.9,292.8 L327.4,292.7 L328.9,292.6 L330.4,292.5 L331.9,292.5 L333.4,292.6 L334.9,292.8 L336.4,293.1 L337.9,293.5 L339.4,294.2 L340.9,295.1 L342.4,296.2 L343.9,297.5 L345.4,298.9 L346.9,300.4 L348.4,301.9 L349.9,303.4 L351.4,304.7 L352.9,305.9 L354.4,307.0 L355.9,307.9 L357.4,308.7 L358.9,309.3 L360.4,309.7 L361.9,309.9 L363.4,309.9 L364.9,310.0 L366.4,310.0 L367.9,310.0 L369.4,309.9 L370.9,309.8 L372.4,309.6 L373.9,309.4 L375.4,309.2 L376.9,308.9 L378.4,308.6 L379.9,308.2 L381.4,307.8 L382.9,307.3 L384.4,306.7 L385.9,306.1 L387.4,305.5 L388.9,304.9 L390.4,304.3 L391.9,303.9 L393.4,303.7 L394.9,303.7 L396.4,303.8 L397.9,304.2 L399.4,304.9 L400.9,305.9 L402.4,307.0 L403.9,308.3 L405.4,309.7 L406.9,311.2 L408.4,312.7 L409.9,314.2 L411.4,315.6 L412.9,316.9 L414.4,318.1 L415.9,319.1 L417.4,320.1 L418.9,321.0 L420.4,321.8 L421.9,322.4 L423.4,322.8 L424.9,323.0 L426.4,323.2 L427.9,323.2 L429.4,323.1 L430.9,322.7 L432.4,322.3 L433.9,321.6 L435.4,320.8 L436.9,319.9 L438.4,318.8 L439.9,317.5 L441.4,316.1 L442.9,314.5 L444.4,312.8 L445.9,310.9 L447.4,308.9 L448.9,306.7 L450.4,304.5 L451.9,302.3 L453.4,300.0 L454.9,297.8 L456.4,295.5 L457.9,293.3 L459.4,291.0 L460.9,288.7 L462.4,286.3 L463.9,283.9 L465.4,281.4 L466.9,279.0 L468.4,276.6 L469.9,274.1 L471.4,271.6 L472.9,269.0 L474.4,266.4 L475.9,263.8 L477.4,261.4 L478.9,258.9 L480.4,256.2 L481.9,252.4 L483.4,247.8 L484.9,243.6 L486.4,240.6 L487.9,238.1 L489.4,235.9 L490.9,233.7 L492.4,231.6 L493.9,229.8 L495.4,228.3 L496.9,227.1 L498.4,226.1 L499.9,225.4 L501.4,225.0 L502.9,224.8 L504.4,224.9 L505.9,225.3 L507.4,226.0 L508.9,227.1 L510.4,228.5 L511.9,230.1 L513.4,232.0 L514.9,234.0 L516.4,236.0 L517.9,237.9 L519.4,239.8 L520.9,241.4 L522.4,242.7 L523.9,243.9 L525.4,244.7 L526.9,245.1 L528.4,245.1 L529.9,244.9 L531.4,244.5 L532.9,244.0 L534.4,243.4 L535.9,242.8 L537.4,242.4 L538.9,242.2 L540.4,242.3 L541.9,242.8 L543.4,243.6 L544.9,244.8 L546.4,246.3 L547.9,248.2 L549.4,250.3 L550.9,252.6 L552.4,254.9 L553.9,257.2 L555.4,259.3 L556.9,261.1 L558.4,262.5 L559.9,263.7 L561.4,264.5 L562.9,265.0 L564.4,265.4 L565.9,265.6 L567.4,265.8 L568.9,265.8 L570.4,265.8 L571.9,265.7 L573.4,265.7 L574.9,265.6 L576.4,265.6 L577.9,265.6 L579.4,265.6 L580.9,265.6 L582.4,265.7 L583.9,265.8 L585.4,266.0 L586.9,266.3 L588.4,266.8 L589.9,267.5 L591.4,268.3 L592.9,269.3 L594.4,270.4 L595.9,271.7 L597.4,272.9 L598.9,274.2 L600.4,275.6 L601.9,276.8 L603.4,278.0 L604.9,279.2 L606.4,280.2 L607.9,281.2 L609.4,282.0 L610.9,282.8 L612.4,283.4 L613.9,283.9 L615.4,284.4 L616.9,284.7 L618.4,284.8 L619.9,284.8 L621.4,284.7 L622.9,284.5 L624.4,284.2 L625.9,283.8 L627.4,283.5 L628.9,283.2 L630.4,283.0 L631.9,282.9 L633.4,282.9 L634.9,283.2 L636.4,283.7 L637.9,284.7 L639.4,286.0 L640.9,287.7 L642.4,289.5 L643.9,291.4 L645.4,293.3 L646.9,295.2 L648.4,296.9 L649.9,298.6 L651.4,300.1 L652.9,301.4 L654.4,302.5 L655.9,303.4 L657.4,304.1 L658.9,304.4 L660.4,304.5 L661.9,304.4 L663.4,304.3 L664.9,304.0 L666.4,303.5 L667.9,302.9 L669.4,302.3 L670.9,301.7 L672.4,301.2 L673.9,300.8 L675.4,300.5 L676.9,300.4 L678.4,300.3 L679.9,300.3 L681.4,300.3 L682.9,300.5 L684.4,300.8 L685.9,301.2 L687.4,301.7 L688.9,302.2 L690.4,302.8 L691.9,303.4 L693.4,303.9 L694.9,304.4 L696.4,304.7 L697.9,304.9 L699.4,305.1 L700.9,305.2 L702.4,305.2 L703.9,305.1 L705.4,304.9 L706.9,304.7 L708.4,304.4 L709.9,304.1 L711.4,303.8 L712.9,303.5 L714.4,303.3 L715.9,303.1 L717.4,303.0 L718.9,303.0 L720.4,303.2 L721.9,303.4 L723.4,303.8 L724.9,304.2 L726.4,304.8 L727.9,305.4 L729.4,305.9 L730.9,306.3 L732.4,306.6 L733.9,306.8 L735.4,306.8 L736.9,306.5 L738.4,306.0 L739.9,305.4 L741.4,304.6 L742.9,303.9 L744.4,303.1 L745.9,302.5 L747.4,302.0 L748.9,301.6 L750.4,301.3 L751.9,301.2 L753.4,301.2 L754.9,301.2 L756.4,301.2 L757.9,301.4 L759.4,301.7 L760.9,301.9 L762.4,302.0 L763.9,302.0 L765.4,301.8 L766.9,301.6 L768.4,301.3 L769.9,301.0 L771.4,300.6 L772.9,300.2 L774.4,299.9 L775.9,299.6 L777.4,299.3 L778.9,299.1 L780.4,298.9 L781.9,298.7 L783.4,298.5 L784.9,298.2 L786.4,297.8 L787.9,297.4 L789.4,297.0 L790.9,296.6 L792.4,296.3 L793.9,296.0 L795.4,295.8 L796.9,295.8 L798.4,295.7" fill="none" stroke="#cc1414" stroke-width="3.5" stroke-linejoin="round"/>
</g>
<line x1="359.3" y1="78.8" x2="359.3" y2="491.8" stroke="#000" stroke-width="2"/>
<rect x="140.9" y="78.8" width="655.3" height="413.0" fill="none" stroke="#000" stroke-width="2.1"/>
<g clip-path="url(#cr)">
<path d="M1061.9,288.4 L1063.4,288.3 L1064.9,288.0 L1066.4,287.4 L1067.9,286.7 L1069.4,286.1 L1070.9,285.5 L1072.4,284.9 L1073.9,284.5 L1075.4,284.1 L1076.9,283.7 L1078.4,283.3 L1079.9,283.0 L1081.4,282.7 L1082.9,282.4 L1084.4,282.1 L1085.9,281.8 L1087.4,281.5 L1088.9,281.2 L1090.4,281.0 L1091.9,280.7 L1093.4,280.4 L1094.9,280.1 L1096.4,279.7 L1097.9,279.4 L1099.4,279.0 L1100.9,278.5 L1102.4,278.1 L1103.9,277.6 L1105.4,277.1 L1106.9,276.7 L1108.4,276.3 L1109.9,275.8 L1111.4,275.3 L1112.9,274.7 L1114.4,274.2 L1115.9,273.6 L1117.4,273.1 L1118.9,272.6 L1120.4,272.2 L1121.9,271.8 L1123.4,271.4 L1124.9,271.1 L1126.4,270.9 L1127.9,270.8 L1129.4,270.7 L1130.9,270.7 L1132.4,270.8 L1133.9,270.8 L1135.4,270.9 L1136.9,271.0 L1138.4,271.3 L1139.9,271.6 L1141.4,272.1 L1142.9,272.6 L1144.4,273.2 L1145.9,273.9 L1147.4,274.7 L1148.9,275.4 L1150.4,276.2 L1151.9,277.0 L1153.4,277.8 L1154.9,278.6 L1156.4,279.3 L1157.9,279.9 L1159.4,280.4 L1160.9,280.9 L1162.4,281.3 L1163.9,281.5 L1165.4,281.7 L1166.9,281.8 L1168.4,281.8 L1169.9,281.6 L1171.4,281.2 L1172.9,280.5 L1174.4,279.7 L1175.9,279.0 L1177.4,278.2 L1178.9,277.5 L1180.4,276.8 L1181.9,276.1 L1183.4,275.6 L1184.9,275.0 L1186.4,274.6 L1187.9,274.2 L1189.4,274.0 L1190.9,273.8 L1192.4,273.7 L1193.9,273.7 L1195.4,273.7 L1196.9,273.7 L1198.4,273.8 L1199.9,274.0 L1201.4,274.2 L1202.9,274.5 L1204.4,274.8 L1205.9,275.1 L1207.4,275.4 L1208.9,275.7 L1210.4,276.0 L1211.9,276.3 L1213.4,276.6 L1214.9,276.9 L1216.4,277.2 L1217.9,277.5 L1219.4,277.8 L1220.9,278.2 L1222.4,278.5 L1223.9,278.7 L1225.4,278.8 L1226.9,278.9 L1228.4,278.9 L1229.9,278.9 L1231.4,278.8 L1232.9,278.7 L1234.4,278.5 L1235.9,278.3 L1237.4,278.0 L1238.9,277.8 L1240.4,277.6 L1241.9,277.5 L1243.4,277.4 L1244.9,277.3 L1246.4,277.2 L1247.9,277.1 L1249.4,277.0 L1250.9,276.9 L1252.4,276.8 L1253.9,276.8 L1255.4,276.7 L1256.9,276.6 L1258.4,276.6 L1259.9,276.6 L1261.4,276.7 L1262.9,276.9 L1264.4,277.1 L1265.9,277.3 L1267.4,277.6 L1268.9,277.9 L1270.4,278.3 L1271.9,278.7 L1273.4,279.2 L1274.9,279.6 L1276.4,280.2 L1277.9,281.0 L1279.4,282.4 L1280.9,284.3 L1282.4,285.8 L1283.9,286.7 L1285.4,287.1 L1286.9,287.3 L1288.4,287.4 L1289.9,287.5 L1291.4,287.6 L1292.9,287.6 L1294.4,287.4 L1295.9,287.0 L1297.4,286.6 L1298.9,286.0 L1300.4,285.3 L1301.9,284.6 L1303.4,283.8 L1304.9,282.9 L1306.4,282.2 L1307.9,281.4 L1309.4,280.9 L1310.9,280.4 L1312.4,280.1 L1313.9,279.8 L1315.4,279.6 L1316.9,279.5 L1318.4,279.4 L1319.9,279.3 L1321.4,279.3 L1322.9,279.2 L1324.4,279.2 L1325.9,279.2 L1327.4,279.2 L1328.9,279.2 L1330.4,279.2 L1331.9,279.2 L1333.4,279.2 L1334.9,279.2 L1336.4,279.2 L1337.9,279.2 L1339.4,279.2 L1340.9,279.1 L1342.4,279.1 L1343.9,279.0 L1345.4,278.9 L1346.9,278.9 L1348.4,278.9 L1349.9,278.8 L1351.4,278.9 L1352.9,278.9 L1354.4,279.0 L1355.9,279.1 L1357.4,279.2 L1358.9,279.3 L1360.4,279.3 L1361.9,279.4 L1363.4,279.5 L1364.9,279.6 L1366.4,279.6 L1367.9,279.6 L1369.4,279.7 L1370.9,279.7 L1372.4,279.8 L1373.9,279.8 L1375.4,279.9 L1376.9,279.9 L1378.4,280.0 L1379.9,280.1 L1381.4,280.3 L1382.9,280.5 L1384.4,280.7 L1385.9,280.9 L1387.4,281.1 L1388.9,281.3 L1390.4,281.5 L1391.9,281.7 L1393.4,282.0 L1394.9,282.3 L1396.4,282.5 L1397.9,282.7 L1399.4,282.9 L1400.9,283.1 L1402.4,283.2 L1403.9,283.3 L1405.4,283.4 L1406.9,283.5 L1408.4,283.5 L1409.9,283.5 L1411.4,283.6 L1412.9,283.5 L1414.4,283.4 L1415.9,283.2 L1417.4,282.9 L1418.9,282.6 L1420.4,282.2 L1421.9,281.7 L1423.4,281.2 L1424.9,280.5 L1426.4,279.8 L1427.9,279.2 L1429.4,278.5 L1430.9,277.9 L1432.4,277.3 L1433.9,276.8 L1435.4,276.5 L1436.9,276.2 L1438.4,276.1 L1439.9,276.0 L1441.4,275.9 L1442.9,275.9 L1444.4,275.9 L1445.9,276.0 L1447.4,276.1 L1448.9,276.2 L1450.4,276.4 L1451.9,276.6 L1453.4,276.8 L1454.9,277.0 L1456.4,277.3 L1457.9,277.6 L1459.4,277.8 L1460.9,278.1 L1462.4,278.3 L1463.9,278.6 L1465.4,278.8 L1466.9,279.0 L1468.4,279.2 L1469.9,279.4 L1471.4,279.5 L1472.9,279.5 L1474.4,279.4 L1475.9,279.4 L1477.4,279.3 L1478.9,279.2 L1480.4,279.0 L1481.9,278.9 L1483.4,278.8 L1484.9,278.6 L1486.4,278.4 L1487.9,278.2 L1489.4,278.0 L1490.9,277.8 L1492.4,277.6 L1493.9,277.5 L1495.4,277.4 L1496.9,277.2 L1498.4,277.1 L1499.9,277.0 L1501.4,276.9 L1502.9,277.1 L1504.4,277.6 L1505.9,278.3 L1507.4,279.1 L1508.9,279.7 L1510.4,280.0 L1511.9,280.1 L1513.4,280.1 L1514.9,280.1 L1516.4,280.2 L1517.9,280.3 L1519.4,280.4 L1520.9,280.6 L1522.4,280.8 L1523.9,281.1 L1525.4,281.4 L1526.9,281.7 L1528.4,282.0 L1529.9,282.2 L1531.4,282.4 L1532.9,282.6 L1534.4,282.7 L1535.9,282.8 L1537.4,282.8 L1538.9,282.8 L1540.4,282.7 L1541.9,282.6 L1543.4,282.4 L1544.9,282.1 L1546.4,281.7 L1547.9,281.3 L1549.4,281.0 L1550.9,280.7 L1552.4,280.5 L1553.9,280.5 L1555.4,280.6 L1556.9,280.8 L1558.4,281.1 L1559.9,281.5 L1561.4,282.1 L1562.9,282.8 L1564.4,283.5 L1565.9,284.3 L1567.4,285.0 L1568.9,285.7 L1570.4,286.3 L1571.9,286.8 L1573.4,287.2 L1574.9,287.5 L1576.4,287.8 L1577.9,288.1 L1579.4,288.4 L1580.9,288.6 L1582.4,288.8 L1583.9,289.0 L1585.4,289.1 L1586.9,289.2 L1588.4,289.2 L1589.9,289.3 L1591.4,289.4 L1592.9,289.6 L1594.4,289.7 L1595.9,289.8 L1597.4,289.9 L1598.9,290.1 L1600.4,290.3 L1601.9,290.5 L1603.4,290.6 L1604.9,290.7 L1606.4,290.7 L1607.9,290.7 L1609.4,290.7 L1610.9,290.5 L1612.4,290.1 L1613.9,289.5 L1615.4,288.6 L1616.9,287.7 L1618.4,286.6 L1619.9,285.5 L1621.4,284.3 L1622.9,283.0 L1624.4,281.7 L1625.9,280.4 L1627.4,279.0 L1628.9,277.7 L1630.4,276.3 L1631.9,275.1 L1633.4,274.0 L1634.9,273.0 L1636.4,272.1 L1637.9,271.3 L1639.4,270.5 L1640.9,269.9 L1642.4,269.3 L1643.9,268.8 L1645.4,268.4 L1646.9,268.1 L1648.4,268.0 L1649.9,267.9 L1651.4,267.9 L1652.9,267.9 L1654.4,268.0 L1655.9,268.1 L1657.4,268.3 L1658.9,268.5 L1660.4,268.7 L1661.9,269.0 L1663.4,269.2 L1664.9,269.5 L1666.4,269.8 L1667.9,270.1 L1669.4,270.4 L1670.9,270.7 L1672.4,271.1 L1673.9,271.5 L1675.4,271.9 L1676.9,272.2 L1678.4,272.6 L1679.9,273.0 L1681.4,273.4 L1682.9,273.7 L1684.4,274.1 L1685.9,274.3 L1687.4,274.3 L1688.9,274.3 L1690.4,274.2 L1691.9,274.0 L1693.4,273.7 L1694.9,273.4 L1696.4,273.0 L1697.9,272.6 L1699.4,272.2 L1700.9,271.8 L1702.4,271.4 L1703.9,271.1 L1705.4,270.7 L1706.9,270.3 L1708.4,270.0 L1709.9,269.7 L1711.4,269.4 L1712.9,269.1 L1714.4,268.9 L1715.9,268.8 L1717.4,268.7 L1718.9,268.6 L1718.9,288.9 L1717.4,288.9 L1715.9,288.7 L1714.4,288.3 L1712.9,287.7 L1711.4,287.1 L1709.9,286.4 L1708.4,285.9 L1706.9,285.3 L1705.4,284.8 L1703.9,284.4 L1702.4,284.0 L1700.9,283.7 L1699.4,283.3 L1697.9,282.9 L1696.4,282.5 L1694.9,282.2 L1693.4,282.0 L1691.9,281.9 L1690.4,281.8 L1688.9,281.8 L1687.4,281.9 L1685.9,282.0 L1684.4,282.1 L1682.9,282.3 L1681.4,282.6 L1679.9,282.8 L1678.4,283.2 L1676.9,283.6 L1675.4,284.1 L1673.9,284.6 L1672.4,285.1 L1670.9,285.7 L1669.4,286.3 L1667.9,286.8 L1666.4,287.4 L1664.9,287.9 L1663.4,288.5 L1661.9,289.1 L1660.4,289.8 L1658.9,290.6 L1657.4,291.4 L1655.9,292.1 L1654.4,292.9 L1652.9,293.6 L1651.4,294.3 L1649.9,294.9 L1648.4,295.4 L1646.9,295.8 L1645.4,296.3 L1643.9,296.6 L1642.4,297.0 L1640.9,297.4 L1639.4,297.9 L1637.9,298.5 L1636.4,299.2 L1634.9,299.9 L1633.4,300.7 L1631.9,301.4 L1630.4,302.1 L1628.9,302.8 L1627.4,303.4 L1625.9,303.8 L1624.4,304.2 L1622.9,304.4 L1621.4,304.6 L1619.9,304.7 L1618.4,304.8 L1616.9,304.8 L1615.4,304.7 L1613.9,304.5 L1612.4,304.2 L1610.9,303.9 L1609.4,303.6 L1607.9,303.1 L1606.4,302.7 L1604.9,302.2 L1603.4,301.7 L1601.9,301.3 L1600.4,300.8 L1598.9,300.4 L1597.4,299.9 L1595.9,299.5 L1594.4,299.0 L1592.9,298.6 L1591.4,298.1 L1589.9,297.7 L1588.4,297.2 L1586.9,296.7 L1585.4,296.3 L1583.9,295.9 L1582.4,295.5 L1580.9,295.1 L1579.4,294.7 L1577.9,294.3 L1576.4,293.9 L1574.9,293.5 L1573.4,293.2 L1571.9,293.1 L1570.4,293.2 L1568.9,293.4 L1567.4,293.7 L1565.9,294.2 L1564.4,294.7 L1562.9,295.3 L1561.4,295.8 L1559.9,296.1 L1558.4,296.4 L1556.9,296.6 L1555.4,296.6 L1553.9,296.6 L1552.4,296.6 L1550.9,296.5 L1549.4,296.4 L1547.9,296.4 L1546.4,296.3 L1544.9,296.2 L1543.4,296.2 L1541.9,296.1 L1540.4,296.0 L1538.9,295.9 L1537.4,295.8 L1535.9,295.7 L1534.4,295.6 L1532.9,295.5 L1531.4,295.3 L1529.9,295.1 L1528.4,295.0 L1526.9,294.8 L1525.4,294.6 L1523.9,294.4 L1522.4,294.1 L1520.9,293.7 L1519.4,293.3 L1517.9,292.8 L1516.4,292.1 L1514.9,291.4 L1513.4,290.6 L1511.9,289.8 L1510.4,289.0 L1508.9,288.3 L1507.4,287.6 L1505.9,286.9 L1504.4,286.3 L1502.9,285.9 L1501.4,285.8 L1499.9,285.9 L1498.4,286.1 L1496.9,286.2 L1495.4,286.4 L1493.9,286.5 L1492.4,286.6 L1490.9,286.8 L1489.4,287.0 L1487.9,287.2 L1486.4,287.4 L1484.9,287.6 L1483.4,287.8 L1481.9,287.9 L1480.4,288.0 L1478.9,288.2 L1477.4,288.3 L1475.9,288.4 L1474.4,288.4 L1472.9,288.5 L1471.4,288.5 L1469.9,288.4 L1468.4,288.2 L1466.9,288.0 L1465.4,287.8 L1463.9,287.6 L1462.4,287.3 L1460.9,287.1 L1459.4,286.8 L1457.9,286.6 L1456.4,286.3 L1454.9,286.0 L1453.4,285.8 L1451.9,285.6 L1450.4,285.4 L1448.9,285.2 L1447.4,285.1 L1445.9,285.0 L1444.4,284.9 L1442.9,284.9 L1441.4,284.9 L1439.9,285.0 L1438.4,285.1 L1436.9,285.2 L1435.4,285.5 L1433.9,285.8 L1432.4,286.3 L1430.9,286.9 L1429.4,287.5 L1427.9,288.2 L1426.4,288.8 L1424.9,289.5 L1423.4,290.2 L1421.9,290.7 L1420.4,291.2 L1418.9,291.6 L1417.4,291.9 L1415.9,292.2 L1414.4,292.4 L1412.9,292.5 L1411.4,292.6 L1409.9,292.5 L1408.4,292.5 L1406.9,292.5 L1405.4,292.4 L1403.9,292.3 L1402.4,292.2 L1400.9,292.1 L1399.4,291.9 L1397.9,291.7 L1396.4,291.5 L1394.9,291.3 L1393.4,291.0 L1391.9,290.7 L1390.4,290.5 L1388.9,290.3 L1387.4,290.1 L1385.9,289.9 L1384.4,289.7 L1382.9,289.5 L1381.4,289.3 L1379.9,289.1 L1378.4,289.0 L1376.9,288.9 L1375.4,288.9 L1373.9,288.8 L1372.4,288.8 L1370.9,288.7 L1369.4,288.7 L1367.9,288.6 L1366.4,288.6 L1364.9,288.6 L1363.4,288.5 L1361.9,288.4 L1360.4,288.3 L1358.9,288.3 L1357.4,288.2 L1355.9,288.1 L1354.4,288.0 L1352.9,287.9 L1351.4,287.9 L1349.9,287.8 L1348.4,287.9 L1346.9,287.9 L1345.4,287.9 L1343.9,288.0 L1342.4,288.1 L1340.9,288.1 L1339.4,288.2 L1337.9,288.2 L1336.4,288.2 L1334.9,288.2 L1333.4,288.2 L1331.9,288.2 L1330.4,288.2 L1328.9,288.2 L1327.4,288.2 L1325.9,288.2 L1324.4,288.2 L1322.9,288.2 L1321.4,288.3 L1319.9,288.3 L1318.4,288.4 L1316.9,288.5 L1315.4,288.6 L1313.9,288.8 L1312.4,289.1 L1310.9,289.4 L1309.4,289.9 L1307.9,290.4 L1306.4,291.2 L1304.9,291.9 L1303.4,292.8 L1301.9,293.6 L1300.4,294.3 L1298.9,295.0 L1297.4,295.6 L1295.9,296.0 L1294.4,296.4 L1292.9,296.6 L1291.4,296.6 L1289.9,296.5 L1288.4,296.4 L1286.9,296.2 L1285.4,296.0 L1283.9,295.7 L1282.4,295.6 L1280.9,295.9 L1279.4,296.2 L1277.9,296.2 L1276.4,295.8 L1274.9,295.3 L1273.4,294.8 L1271.9,294.4 L1270.4,294.0 L1268.9,293.7 L1267.4,293.4 L1265.9,293.2 L1264.4,293.0 L1262.9,292.9 L1261.4,292.8 L1259.9,292.7 L1258.4,292.6 L1256.9,292.5 L1255.4,292.4 L1253.9,292.3 L1252.4,292.2 L1250.9,292.1 L1249.4,292.0 L1247.9,291.9 L1246.4,291.9 L1244.9,291.8 L1243.4,291.7 L1241.9,291.6 L1240.4,291.5 L1238.9,291.4 L1237.4,291.3 L1235.9,291.2 L1234.4,291.0 L1232.9,290.9 L1231.4,290.8 L1229.9,290.7 L1228.4,290.6 L1226.9,290.6 L1225.4,290.4 L1223.9,290.3 L1222.4,290.1 L1220.9,289.9 L1219.4,289.7 L1217.9,289.4 L1216.4,289.2 L1214.9,288.9 L1213.4,288.7 L1211.9,288.5 L1210.4,288.3 L1208.9,288.1 L1207.4,287.9 L1205.9,287.8 L1204.4,287.7 L1202.9,287.7 L1201.4,287.7 L1199.9,287.7 L1198.4,287.7 L1196.9,287.8 L1195.4,287.9 L1193.9,288.0 L1192.4,288.2 L1190.9,288.5 L1189.4,288.9 L1187.9,289.5 L1186.4,290.2 L1184.9,290.8 L1183.4,291.4 L1181.9,292.0 L1180.4,292.5 L1178.9,292.9 L1177.4,293.1 L1175.9,293.1 L1174.4,293.1 L1172.9,293.1 L1171.4,293.1 L1169.9,293.1 L1168.4,293.0 L1166.9,292.9 L1165.4,292.7 L1163.9,292.4 L1162.4,292.1 L1160.9,291.7 L1159.4,291.2 L1157.9,290.7 L1156.4,290.2 L1154.9,289.8 L1153.4,289.3 L1151.9,288.9 L1150.4,288.4 L1148.9,288.0 L1147.4,287.5 L1145.9,287.1 L1144.4,286.6 L1142.9,286.2 L1141.4,285.7 L1139.9,285.2 L1138.4,284.8 L1136.9,284.4 L1135.4,284.1 L1133.9,283.9 L1132.4,283.8 L1130.9,283.7 L1129.4,283.7 L1127.9,283.6 L1126.4,283.6 L1124.9,283.6 L1123.4,283.7 L1121.9,283.9 L1120.4,284.2 L1118.9,284.7 L1117.4,285.3 L1115.9,285.8 L1114.4,286.4 L1112.9,287.0 L1111.4,287.6 L1109.9,288.2 L1108.4,288.9 L1106.9,289.5 L1105.4,290.1 L1103.9,290.7 L1102.4,291.1 L1100.9,291.5 L1099.4,291.8 L1097.9,292.1 L1096.4,292.4 L1094.9,292.7 L1093.4,292.9 L1091.9,293.2 L1090.4,293.6 L1088.9,293.9 L1087.4,294.4 L1085.9,295.0 L1084.4,295.6 L1082.9,296.3 L1081.4,297.2 L1079.9,298.3 L1078.4,299.5 L1076.9,300.8 L1075.4,302.2 L1073.9,303.6 L1072.4,305.1 L1070.9,306.6 L1069.4,308.2 L1067.9,309.9 L1066.4,311.6 L1064.9,313.0 L1063.4,313.8 L1061.9,314.1Z" fill="#55c81a" fill-opacity="0.3"/>
<g clip-path="url(#crb)">
<path d="M1061.9,276.2 L1063.4,276.1 L1064.9,275.9 L1066.4,275.6 L1067.9,275.3 L1069.4,275.0 L1070.9,274.8 L1072.4,274.7 L1073.9,274.7 L1075.4,274.6 L1076.9,274.5 L1078.4,274.4 L1079.9,274.3 L1081.4,274.1 L1082.9,273.8 L1084.4,273.4 L1085.9,272.9 L1087.4,272.2 L1088.9,271.5 L1090.4,270.8 L1091.9,270.2 L1093.4,269.7 L1094.9,269.3 L1096.4,269.0 L1097.9,268.7 L1099.4,268.6 L1100.9,268.5 L1102.4,268.6 L1103.9,268.9 L1105.4,269.3 L1106.9,269.8 L1108.4,270.5 L1109.9,271.2 L1111.4,271.9 L1112.9,272.5 L1114.4,272.8 L1115.9,273.0 L1117.4,272.7 L1118.9,272.2 L1120.4,271.4 L1121.9,270.8 L1123.4,270.2 L1124.9,269.8 L1126.4,269.5 L1127.9,269.4 L1129.4,269.5 L1130.9,269.5 L1132.4,269.7 L1133.9,270.0 L1135.4,270.4 L1136.9,271.0 L1138.4,271.5 L1139.9,272.1 L1141.4,272.6 L1142.9,273.2 L1144.4,273.9 L1145.9,274.6 L1147.4,275.4 L1148.9,276.1 L1150.4,276.9 L1151.9,277.7 L1153.4,278.5 L1154.9,279.2 L1156.4,279.9 L1157.9,280.6 L1159.4,281.1 L1160.9,281.6 L1162.4,282.0 L1163.9,282.2 L1165.4,282.3 L1166.9,282.3 L1168.4,282.2 L1169.9,282.0 L1171.4,281.5 L1172.9,280.7 L1174.4,279.7 L1175.9,278.7 L1177.4,277.6 L1178.9,276.5 L1180.4,275.4 L1181.9,274.4 L1183.4,273.4 L1184.9,272.5 L1186.4,271.6 L1187.9,270.8 L1189.4,270.1 L1190.9,269.5 L1192.4,269.0 L1193.9,268.5 L1195.4,268.2 L1196.9,268.0 L1198.4,267.9 L1199.9,267.8 L1201.4,267.8 L1202.9,267.9 L1204.4,268.2 L1205.9,268.5 L1207.4,268.6 L1208.9,268.7 L1210.4,268.7 L1211.9,268.7 L1213.4,268.5 L1214.9,268.2 L1216.4,267.8 L1217.9,267.5 L1219.4,267.2 L1220.9,267.0 L1222.4,266.8 L1223.9,266.7 L1225.4,266.8 L1226.9,266.9 L1228.4,267.2 L1229.9,267.7 L1231.4,268.3 L1232.9,269.0 L1234.4,269.9 L1235.9,270.8 L1237.4,271.7 L1238.9,272.6 L1240.4,273.6 L1241.9,274.6 L1243.4,275.5 L1244.9,276.4 L1246.4,277.3 L1247.9,278.2 L1249.4,279.0 L1250.9,279.7 L1252.4,280.3 L1253.9,280.7 L1255.4,281.1 L1256.9,281.5 L1258.4,281.7 L1259.9,281.9 L1261.4,282.1 L1262.9,282.3 L1264.4,282.4 L1265.9,282.6 L1267.4,282.8 L1268.9,283.1 L1270.4,283.4 L1271.9,283.8 L1273.4,284.2 L1274.9,284.8 L1276.4,285.4 L1277.9,285.9 L1279.4,286.2 L1280.9,286.2 L1282.4,286.1 L1283.9,286.1 L1285.4,286.2 L1286.9,286.3 L1288.4,286.5 L1289.9,286.6 L1291.4,286.6 L1292.9,286.6 L1294.4,286.3 L1295.9,285.8 L1297.4,285.0 L1298.9,284.2 L1300.4,283.2 L1301.9,282.3 L1303.4,281.3 L1304.9,280.3 L1306.4,279.4 L1307.9,278.6 L1309.4,277.9 L1310.9,277.4 L1312.4,277.1 L1313.9,276.8 L1315.4,276.7 L1316.9,276.9 L1318.4,277.4 L1319.9,278.3 L1321.4,279.7 L1322.9,281.7 L1324.4,284.1 L1325.9,286.7 L1327.4,289.2 L1328.9,291.8 L1330.4,294.6 L1331.9,297.5 L1333.4,300.6 L1334.9,303.6 L1336.4,306.6 L1337.9,309.6 L1339.4,312.6 L1340.9,315.5 L1342.4,318.2 L1343.9,320.7 L1345.4,323.2 L1346.9,325.6 L1348.4,328.1 L1349.9,330.4 L1351.4,332.5 L1352.9,334.3 L1354.4,335.6 L1355.9,336.5 L1357.4,336.9 L1358.9,336.8 L1360.4,335.9 L1361.9,334.4 L1363.4,331.9 L1364.9,328.6 L1366.4,324.4 L1367.9,319.5 L1369.4,313.8 L1370.9,307.2 L1372.4,300.1 L1373.9,292.8 L1375.4,284.9 L1376.9,276.2 L1378.4,267.2 L1379.9,258.1 L1381.4,249.1 L1382.9,240.1 L1384.4,231.5 L1385.9,223.8 L1387.4,216.7 L1388.9,208.9 L1390.4,200.2 L1391.9,191.3 L1393.4,183.0 L1394.9,175.6 L1396.4,169.1 L1397.9,163.0 L1399.4,157.3 L1400.9,152.2 L1402.4,147.5 L1403.9,143.5 L1405.4,140.1 L1406.9,137.3 L1408.4,134.9 L1409.9,133.0 L1411.4,131.3 L1412.9,130.0 L1414.4,128.9 L1415.9,128.1 L1417.4,127.6 L1418.9,127.3 L1420.4,127.3 L1421.9,127.6 L1423.4,128.1 L1424.9,129.0 L1426.4,130.2 L1427.9,131.6 L1429.4,133.2 L1430.9,135.1 L1432.4,137.1 L1433.9,139.3 L1435.4,141.8 L1436.9,144.4 L1438.4,147.1 L1439.9,150.0 L1441.4,152.9 L1442.9,156.0 L1444.4,159.1 L1445.9,162.3 L1447.4,165.6 L1448.9,169.0 L1450.4,172.5 L1451.9,176.0 L1453.4,179.5 L1454.9,183.0 L1456.4,186.5 L1457.9,190.0 L1459.4,193.6 L1460.9,197.1 L1462.4,200.6 L1463.9,203.9 L1465.4,207.1 L1466.9,210.1 L1468.4,212.9 L1469.9,215.5 L1471.4,217.9 L1472.9,220.0 L1474.4,221.9 L1475.9,223.4 L1477.4,224.7 L1478.9,225.7 L1480.4,226.6 L1481.9,227.3 L1483.4,227.8 L1484.9,228.4 L1486.4,228.8 L1487.9,229.2 L1489.4,229.6 L1490.9,230.1 L1492.4,230.6 L1493.9,231.2 L1495.4,231.9 L1496.9,233.0 L1498.4,234.6 L1499.9,236.3 L1501.4,237.9 L1502.9,239.0 L1504.4,239.7 L1505.9,240.3 L1507.4,240.7 L1508.9,241.1 L1510.4,241.4 L1511.9,241.7 L1513.4,241.7 L1514.9,241.7 L1516.4,241.6 L1517.9,241.4 L1519.4,241.2 L1520.9,241.0 L1522.4,240.7 L1523.9,240.5 L1525.4,240.3 L1526.9,240.2 L1528.4,240.1 L1529.9,240.1 L1531.4,240.1 L1532.9,240.1 L1534.4,240.1 L1535.9,240.2 L1537.4,240.3 L1538.9,240.6 L1540.4,240.9 L1541.9,241.3 L1543.4,241.9 L1544.9,242.6 L1546.4,243.3 L1547.9,244.2 L1549.4,245.2 L1550.9,246.2 L1552.4,247.2 L1553.9,248.4 L1555.4,249.5 L1556.9,250.8 L1558.4,252.2 L1559.9,253.8 L1561.4,255.3 L1562.9,257.0 L1564.4,258.6 L1565.9,260.3 L1567.4,262.0 L1568.9,263.7 L1570.4,265.4 L1571.9,267.1 L1573.4,268.9 L1574.9,270.8 L1576.4,272.6 L1577.9,274.5 L1579.4,276.3 L1580.9,278.0 L1582.4,279.6 L1583.9,281.2 L1585.4,282.6 L1586.9,283.9 L1588.4,285.1 L1589.9,286.1 L1591.4,286.9 L1592.9,287.7 L1594.4,288.2 L1595.9,288.6 L1597.4,288.9 L1598.9,289.2 L1600.4,289.4 L1601.9,289.6 L1603.4,289.7 L1604.9,289.9 L1606.4,290.2 L1607.9,290.5 L1609.4,290.9 L1610.9,291.4 L1612.4,292.0 L1613.9,292.7 L1615.4,293.4 L1616.9,294.0 L1618.4,294.6 L1619.9,295.2 L1621.4,295.6 L1622.9,296.0 L1624.4,296.3 L1625.9,296.5 L1627.4,296.7 L1628.9,296.9 L1630.4,297.0 L1631.9,297.0 L1633.4,297.0 L1634.9,296.9 L1636.4,296.8 L1637.9,296.7 L1639.4,296.6 L1640.9,296.5 L1642.4,296.5 L1643.9,296.4 L1645.4,296.3 L1646.9,296.2 L1648.4,296.2 L1649.9,296.3 L1651.4,296.5 L1652.9,296.8 L1654.4,297.3 L1655.9,297.9 L1657.4,298.7 L1658.9,299.5 L1660.4,300.3 L1661.9,301.0 L1663.4,301.8 L1664.9,302.5 L1666.4,303.1 L1667.9,303.7 L1669.4,304.0 L1670.9,304.2 L1672.4,304.2 L1673.9,304.1 L1675.4,303.9 L1676.9,303.5 L1678.4,303.1 L1679.9,302.6 L1681.4,302.1 L1682.9,301.8 L1684.4,301.5 L1685.9,301.3 L1687.4,301.3 L1688.9,301.4 L1690.4,301.6 L1691.9,301.9 L1693.4,302.2 L1694.9,302.7 L1696.4,303.1 L1697.9,303.5 L1699.4,303.9 L1700.9,304.2 L1702.4,304.5 L1703.9,304.5 L1705.4,304.6 L1706.9,304.6 L1708.4,304.5 L1709.9,304.4 L1711.4,304.2 L1712.9,304.0 L1714.4,303.8 L1715.9,303.7 L1717.4,303.6 L1718.9,303.5 L1718.9,346.2 L1717.4,346.7 L1715.9,347.4 L1714.4,348.1 L1712.9,348.7 L1711.4,349.0 L1709.9,349.3 L1708.4,349.3 L1706.9,349.2 L1705.4,348.8 L1703.9,348.4 L1702.4,347.7 L1700.9,346.9 L1699.4,346.0 L1697.9,344.9 L1696.4,343.7 L1694.9,342.5 L1693.4,341.1 L1691.9,339.7 L1690.4,338.2 L1688.9,336.7 L1687.4,335.2 L1685.9,333.9 L1684.4,332.6 L1682.9,331.5 L1681.4,330.6 L1679.9,329.9 L1678.4,329.3 L1676.9,328.8 L1675.4,328.3 L1673.9,327.9 L1672.4,327.5 L1670.9,327.1 L1669.4,326.7 L1667.9,326.2 L1666.4,325.8 L1664.9,325.5 L1663.4,325.3 L1661.9,325.1 L1660.4,325.1 L1658.9,325.1 L1657.4,325.4 L1655.9,325.8 L1654.4,326.3 L1652.9,326.9 L1651.4,327.7 L1649.9,328.4 L1648.4,329.2 L1646.9,329.8 L1645.4,330.4 L1643.9,330.9 L1642.4,331.2 L1640.9,331.5 L1639.4,331.6 L1637.9,331.7 L1636.4,331.6 L1634.9,331.4 L1633.4,331.1 L1631.9,330.6 L1630.4,330.0 L1628.9,329.4 L1627.4,328.6 L1625.9,327.9 L1624.4,327.1 L1622.9,326.4 L1621.4,325.7 L1619.9,325.1 L1618.4,324.5 L1616.9,323.9 L1615.4,323.4 L1613.9,322.8 L1612.4,322.1 L1610.9,321.4 L1609.4,320.6 L1607.9,319.6 L1606.4,318.6 L1604.9,317.6 L1603.4,316.5 L1601.9,315.4 L1600.4,314.2 L1598.9,313.0 L1597.4,311.8 L1595.9,310.6 L1594.4,309.4 L1592.9,308.2 L1591.4,307.1 L1589.9,306.0 L1588.4,305.0 L1586.9,304.2 L1585.4,303.4 L1583.9,302.8 L1582.4,302.4 L1580.9,302.0 L1579.4,301.7 L1577.9,301.5 L1576.4,301.3 L1574.9,301.2 L1573.4,301.1 L1571.9,301.0 L1570.4,301.0 L1568.9,301.0 L1567.4,301.0 L1565.9,301.0 L1564.4,301.0 L1562.9,301.0 L1561.4,301.0 L1559.9,301.0 L1558.4,301.1 L1556.9,301.2 L1555.4,301.4 L1553.9,301.5 L1552.4,301.6 L1550.9,301.7 L1549.4,301.8 L1547.9,301.8 L1546.4,301.9 L1544.9,301.9 L1543.4,301.9 L1541.9,301.9 L1540.4,301.9 L1538.9,301.9 L1537.4,301.9 L1535.9,301.9 L1534.4,301.8 L1532.9,301.6 L1531.4,301.5 L1529.9,301.3 L1528.4,301.1 L1526.9,300.9 L1525.4,300.7 L1523.9,300.4 L1522.4,300.1 L1520.9,299.9 L1519.4,299.6 L1517.9,299.4 L1516.4,299.3 L1514.9,299.3 L1513.4,299.5 L1511.9,299.8 L1510.4,300.2 L1508.9,300.8 L1507.4,301.7 L1505.9,302.9 L1504.4,304.3 L1502.9,305.7 L1501.4,306.7 L1499.9,307.6 L1498.4,308.4 L1496.9,309.5 L1495.4,310.6 L1493.9,311.8 L1492.4,313.0 L1490.9,314.2 L1489.4,315.2 L1487.9,316.1 L1486.4,316.9 L1484.9,317.4 L1483.4,317.7 L1481.9,317.8 L1480.4,317.6 L1478.9,317.1 L1477.4,316.4 L1475.9,315.3 L1474.4,313.9 L1472.9,312.1 L1471.4,310.0 L1469.9,307.8 L1468.4,305.3 L1466.9,302.5 L1465.4,299.4 L1463.9,295.9 L1462.4,292.4 L1460.9,288.9 L1459.4,285.4 L1457.9,281.8 L1456.4,278.3 L1454.9,274.8 L1453.4,271.3 L1451.9,267.8 L1450.4,264.4 L1448.9,261.2 L1447.4,258.3 L1445.9,255.8 L1444.4,253.8 L1442.9,252.2 L1441.4,251.2 L1439.9,250.6 L1438.4,250.3 L1436.9,250.5 L1435.4,250.9 L1433.9,251.6 L1432.4,252.6 L1430.9,253.7 L1429.4,254.9 L1427.9,256.0 L1426.4,257.2 L1424.9,258.3 L1423.4,259.4 L1421.9,260.5 L1420.4,261.7 L1418.9,262.8 L1417.4,264.0 L1415.9,265.2 L1414.4,266.5 L1412.9,268.0 L1411.4,269.6 L1409.9,271.6 L1408.4,273.9 L1406.9,276.5 L1405.4,279.6 L1403.9,283.2 L1402.4,287.5 L1400.9,292.3 L1399.4,297.2 L1397.9,301.8 L1396.4,305.7 L1394.9,309.2 L1393.4,312.6 L1391.9,315.9 L1390.4,319.4 L1388.9,323.4 L1387.4,327.9 L1385.9,333.1 L1384.4,338.6 L1382.9,344.2 L1381.4,349.7 L1379.9,355.2 L1378.4,360.8 L1376.9,366.2 L1375.4,371.6 L1373.9,376.7 L1372.4,381.6 L1370.9,385.9 L1369.4,389.7 L1367.9,393.2 L1366.4,396.4 L1364.9,399.5 L1363.4,402.5 L1361.9,405.4 L1360.4,408.0 L1358.9,409.9 L1357.4,411.0 L1355.9,411.0 L1354.4,409.9 L1352.9,407.7 L1351.4,404.9 L1349.9,401.7 L1348.4,398.5 L1346.9,395.3 L1345.4,392.3 L1343.9,389.5 L1342.4,386.6 L1340.9,383.6 L1339.4,380.3 L1337.9,376.9 L1336.4,373.6 L1334.9,370.4 L1333.4,367.3 L1331.9,364.4 L1330.4,361.8 L1328.9,359.3 L1327.4,357.0 L1325.9,355.0 L1324.4,353.2 L1322.9,351.6 L1321.4,350.1 L1319.9,348.9 L1318.4,347.8 L1316.9,346.8 L1315.4,346.0 L1313.9,345.1 L1312.4,344.4 L1310.9,343.6 L1309.4,342.9 L1307.9,342.2 L1306.4,341.4 L1304.9,340.7 L1303.4,339.8 L1301.9,338.8 L1300.4,337.6 L1298.9,336.5 L1297.4,335.2 L1295.9,333.9 L1294.4,332.6 L1292.9,331.2 L1291.4,329.8 L1289.9,328.3 L1288.4,326.8 L1286.9,325.3 L1285.4,323.8 L1283.9,322.3 L1282.4,320.7 L1280.9,318.9 L1279.4,317.0 L1277.9,315.1 L1276.4,313.6 L1274.9,312.4 L1273.4,311.4 L1271.9,310.5 L1270.4,309.8 L1268.9,309.1 L1267.4,308.6 L1265.9,308.2 L1264.4,308.0 L1262.9,307.8 L1261.4,307.7 L1259.9,307.8 L1258.4,307.9 L1256.9,308.1 L1255.4,308.4 L1253.9,308.8 L1252.4,309.2 L1250.9,309.5 L1249.4,309.7 L1247.9,309.8 L1246.4,309.8 L1244.9,309.8 L1243.4,309.6 L1241.9,309.2 L1240.4,308.6 L1238.9,307.8 L1237.4,307.0 L1235.9,306.1 L1234.4,305.1 L1232.9,304.1 L1231.4,303.1 L1229.9,302.0 L1228.4,301.0 L1226.9,299.9 L1225.4,298.9 L1223.9,297.9 L1222.4,297.0 L1220.9,296.1 L1219.4,295.2 L1217.9,294.4 L1216.4,293.5 L1214.9,292.7 L1213.4,292.0 L1211.9,291.4 L1210.4,290.8 L1208.9,290.4 L1207.4,290.0 L1205.9,289.7 L1204.4,289.5 L1202.9,289.2 L1201.4,289.0 L1199.9,288.8 L1198.4,288.7 L1196.9,288.7 L1195.4,288.7 L1193.9,288.8 L1192.4,289.0 L1190.9,289.1 L1189.4,289.4 L1187.9,289.8 L1186.4,290.3 L1184.9,290.9 L1183.4,291.4 L1181.9,292.0 L1180.4,292.7 L1178.9,293.3 L1177.4,293.8 L1175.9,294.2 L1174.4,294.6 L1172.9,295.0 L1171.4,295.3 L1169.9,295.6 L1168.4,295.9 L1166.9,296.2 L1165.4,296.4 L1163.9,296.5 L1162.4,296.5 L1160.9,296.5 L1159.4,296.5 L1157.9,296.5 L1156.4,296.5 L1154.9,296.4 L1153.4,296.3 L1151.9,296.1 L1150.4,295.9 L1148.9,295.6 L1147.4,295.4 L1145.9,295.0 L1144.4,294.7 L1142.9,294.3 L1141.4,293.9 L1139.9,293.5 L1138.4,293.0 L1136.9,292.5 L1135.4,292.1 L1133.9,291.6 L1132.4,291.2 L1130.9,290.7 L1129.4,290.3 L1127.9,289.8 L1126.4,289.4 L1124.9,288.9 L1123.4,288.5 L1121.9,288.0 L1120.4,287.6 L1118.9,287.3 L1117.4,287.1 L1115.9,287.2 L1114.4,287.4 L1112.9,287.7 L1111.4,288.2 L1109.9,289.0 L1108.4,290.0 L1106.9,291.0 L1105.4,292.0 L1103.9,293.0 L1102.4,293.9 L1100.9,294.8 L1099.4,295.7 L1097.9,296.4 L1096.4,297.0 L1094.9,297.3 L1093.4,297.5 L1091.9,297.6 L1090.4,297.6 L1088.9,297.5 L1087.4,297.3 L1085.9,297.0 L1084.4,296.7 L1082.9,296.3 L1081.4,295.9 L1079.9,295.5 L1078.4,295.2 L1076.9,295.0 L1075.4,295.0 L1073.9,295.0 L1072.4,295.1 L1070.9,295.2 L1069.4,295.3 L1067.9,295.4 L1066.4,295.6 L1064.9,295.7 L1063.4,295.8 L1061.9,295.9Z" fill="#cc1414" fill-opacity="0.3"/>
</g>
</g>
<line x1="1062.9" y1="126.2" x2="1071.9" y2="126.2" stroke="#000" stroke-width="1"/>
<line x1="1717.8" y1="126.2" x2="1708.8" y2="126.2" stroke="#000" stroke-width="1"/>
<line x1="1062.9" y1="205.7" x2="1071.9" y2="205.7" stroke="#000" stroke-width="1"/>
<line x1="1717.8" y1="205.7" x2="1708.8" y2="205.7" stroke="#000" stroke-width="1"/>
<line x1="1062.9" y1="285.2" x2="1071.9" y2="285.2" stroke="#000" stroke-width="1"/>
<line x1="1717.8" y1="285.2" x2="1708.8" y2="285.2" stroke="#000" stroke-width="1"/>
<line x1="1062.9" y1="364.7" x2="1071.9" y2="364.7" stroke="#000" stroke-width="1"/>
<line x1="1717.8" y1="364.7" x2="1708.8" y2="364.7" stroke="#000" stroke-width="1"/>
<line x1="1062.9" y1="444.2" x2="1071.9" y2="444.2" stroke="#000" stroke-width="1"/>
<line x1="1717.8" y1="444.2" x2="1708.8" y2="444.2" stroke="#000" stroke-width="1"/>
<line x1="1499.5" y1="491.8" x2="1499.5" y2="482.8" stroke="#000" stroke-width="1"/>
<line x1="1499.5" y1="78.8" x2="1499.5" y2="87.8" stroke="#000" stroke-width="1"/>
<line x1="1493.2" y1="220.9" x2="1425.9" y2="279.9" stroke="#000" stroke-width="2.7"/>
<g clip-path="url(#cr)">
<path d="M1061.9,300.6 L1063.4,300.4 L1064.9,299.8 L1066.4,299.0 L1067.9,297.9 L1069.4,297.0 L1070.9,296.1 L1072.4,295.3 L1073.9,294.6 L1075.4,293.9 L1076.9,293.3 L1078.4,292.6 L1079.9,292.1 L1081.4,291.5 L1082.9,290.9 L1084.4,290.4 L1085.9,289.9 L1087.4,289.4 L1088.9,288.9 L1090.4,288.4 L1091.9,288.0 L1093.4,287.5 L1094.9,287.1 L1096.4,286.6 L1097.9,286.1 L1099.4,285.5 L1100.9,285.0 L1102.4,284.5 L1103.9,284.0 L1105.4,283.5 L1106.9,283.0 L1108.4,282.6 L1109.9,282.2 L1111.4,281.8 L1112.9,281.4 L1114.4,281.0 L1115.9,280.6 L1117.4,280.2 L1118.9,279.9 L1120.4,279.5 L1121.9,279.2 L1123.4,278.8 L1124.9,278.4 L1126.4,278.1 L1127.9,277.8 L1129.4,277.6 L1130.9,277.5 L1132.4,277.5 L1133.9,277.5 L1135.4,277.5 L1136.9,277.6 L1138.4,277.7 L1139.9,278.0 L1141.4,278.3 L1142.9,278.7 L1144.4,279.2 L1145.9,279.7 L1147.4,280.2 L1148.9,280.8 L1150.4,281.4 L1151.9,282.0 L1153.4,282.6 L1154.9,283.2 L1156.4,283.8 L1157.9,284.4 L1159.4,284.9 L1160.9,285.5 L1162.4,285.9 L1163.9,286.3 L1165.4,286.6 L1166.9,286.8 L1168.4,286.9 L1169.9,286.9 L1171.4,286.6 L1172.9,286.2 L1174.4,285.7 L1175.9,285.2 L1177.4,284.6 L1178.9,283.9 L1180.4,283.3 L1181.9,282.7 L1183.4,282.2 L1184.9,281.8 L1186.4,281.5 L1187.9,281.2 L1189.4,281.1 L1190.9,281.0 L1192.4,280.9 L1193.9,280.9 L1195.4,280.9 L1196.9,280.9 L1198.4,281.0 L1199.9,281.0 L1201.4,281.1 L1202.9,281.2 L1204.4,281.3 L1205.9,281.5 L1207.4,281.7 L1208.9,281.9 L1210.4,282.1 L1211.9,282.4 L1213.4,282.6 L1214.9,282.8 L1216.4,283.1 L1217.9,283.3 L1219.4,283.5 L1220.9,283.8 L1222.4,284.0 L1223.9,284.2 L1225.4,284.4 L1226.9,284.5 L1228.4,284.7 L1229.9,284.8 L1231.4,285.0 L1232.9,285.1 L1234.4,285.2 L1235.9,285.3 L1237.4,285.3 L1238.9,285.4 L1240.4,285.5 L1241.9,285.5 L1243.4,285.6 L1244.9,285.7 L1246.4,285.7 L1247.9,285.8 L1249.4,285.8 L1250.9,285.9 L1252.4,286.0 L1253.9,286.0 L1255.4,286.1 L1256.9,286.2 L1258.4,286.3 L1259.9,286.4 L1261.4,286.5 L1262.9,286.6 L1264.4,286.7 L1265.9,286.8 L1267.4,287.0 L1268.9,287.1 L1270.4,287.4 L1271.9,287.6 L1273.4,287.9 L1274.9,288.2 L1276.4,288.6 L1277.9,289.1 L1279.4,289.6 L1280.9,290.2 L1282.4,290.8 L1283.9,291.3 L1285.4,291.6 L1286.9,291.8 L1288.4,291.9 L1289.9,292.0 L1291.4,292.1 L1292.9,292.1 L1294.4,291.9 L1295.9,291.5 L1297.4,291.1 L1298.9,290.5 L1300.4,289.8 L1301.9,289.1 L1303.4,288.3 L1304.9,287.4 L1306.4,286.7 L1307.9,285.9 L1309.4,285.4 L1310.9,284.9 L1312.4,284.6 L1313.9,284.3 L1315.4,284.1 L1316.9,284.0 L1318.4,283.9 L1319.9,283.8 L1321.4,283.8 L1322.9,283.7 L1324.4,283.7 L1325.9,283.7 L1327.4,283.7 L1328.9,283.7 L1330.4,283.7 L1331.9,283.7 L1333.4,283.7 L1334.9,283.7 L1336.4,283.7 L1337.9,283.7 L1339.4,283.7 L1340.9,283.6 L1342.4,283.6 L1343.9,283.5 L1345.4,283.4 L1346.9,283.4 L1348.4,283.4 L1349.9,283.3 L1351.4,283.4 L1352.9,283.4 L1354.4,283.5 L1355.9,283.6 L1357.4,283.7 L1358.9,283.8 L1360.4,283.8 L1361.9,283.9 L1363.4,284.0 L1364.9,284.1 L1366.4,284.1 L1367.9,284.1 L1369.4,284.2 L1370.9,284.2 L1372.4,284.3 L1373.9,284.3 L1375.4,284.4 L1376.9,284.4 L1378.4,284.5 L1379.9,284.6 L1381.4,284.8 L1382.9,285.0 L1384.4,285.2 L1385.9,285.4 L1387.4,285.6 L1388.9,285.8 L1390.4,286.0 L1391.9,286.2 L1393.4,286.5 L1394.9,286.8 L1396.4,287.0 L1397.9,287.2 L1399.4,287.4 L1400.9,287.6 L1402.4,287.7 L1403.9,287.8 L1405.4,287.9 L1406.9,288.0 L1408.4,288.0 L1409.9,288.0 L1411.4,288.1 L1412.9,288.0 L1414.4,287.9 L1415.9,287.7 L1417.4,287.4 L1418.9,287.1 L1420.4,286.7 L1421.9,286.2 L1423.4,285.7 L1424.9,285.0 L1426.4,284.3 L1427.9,283.7 L1429.4,283.0 L1430.9,282.4 L1432.4,281.8 L1433.9,281.3 L1435.4,281.0 L1436.9,280.7 L1438.4,280.6 L1439.9,280.5 L1441.4,280.4 L1442.9,280.4 L1444.4,280.4 L1445.9,280.5 L1447.4,280.6 L1448.9,280.7 L1450.4,280.9 L1451.9,281.1 L1453.4,281.3 L1454.9,281.5 L1456.4,281.8 L1457.9,282.1 L1459.4,282.3 L1460.9,282.6 L1462.4,282.8 L1463.9,283.1 L1465.4,283.3 L1466.9,283.5 L1468.4,283.7 L1469.9,283.9 L1471.4,284.0 L1472.9,284.0 L1474.4,283.9 L1475.9,283.9 L1477.4,283.8 L1478.9,283.7 L1480.4,283.5 L1481.9,283.4 L1483.4,283.3 L1484.9,283.1 L1486.4,282.9 L1487.9,282.7 L1489.4,282.5 L1490.9,282.3 L1492.4,282.1 L1493.9,282.0 L1495.4,281.8 L1496.9,281.7 L1498.4,281.6 L1499.9,281.6 L1501.4,281.5 L1502.9,281.6 L1504.4,281.9 L1505.9,282.2 L1507.4,282.6 L1508.9,283.0 L1510.4,283.4 L1511.9,283.9 L1513.4,284.4 L1514.9,284.8 L1516.4,285.3 L1517.9,285.7 L1519.4,286.1 L1520.9,286.5 L1522.4,286.9 L1523.9,287.2 L1525.4,287.5 L1526.9,287.8 L1528.4,288.1 L1529.9,288.4 L1531.4,288.6 L1532.9,288.8 L1534.4,288.9 L1535.9,289.1 L1537.4,289.2 L1538.9,289.3 L1540.4,289.3 L1541.9,289.4 L1543.4,289.4 L1544.9,289.3 L1546.4,289.3 L1547.9,289.2 L1549.4,289.1 L1550.9,288.9 L1552.4,288.8 L1553.9,288.7 L1555.4,288.6 L1556.9,288.6 L1558.4,288.6 L1559.9,288.6 L1561.4,288.7 L1562.9,288.7 L1564.4,288.9 L1565.9,289.0 L1567.4,289.1 L1568.9,289.2 L1570.4,289.4 L1571.9,289.6 L1573.4,289.8 L1574.9,290.0 L1576.4,290.3 L1577.9,290.6 L1579.4,290.8 L1580.9,291.1 L1582.4,291.4 L1583.9,291.7 L1585.4,292.0 L1586.9,292.3 L1588.4,292.7 L1589.9,293.0 L1591.4,293.3 L1592.9,293.6 L1594.4,294.0 L1595.9,294.3 L1597.4,294.6 L1598.9,294.9 L1600.4,295.2 L1601.9,295.5 L1603.4,295.8 L1604.9,296.1 L1606.4,296.3 L1607.9,296.5 L1609.4,296.6 L1610.9,296.6 L1612.4,296.6 L1613.9,296.6 L1615.4,296.4 L1616.9,296.2 L1618.4,295.8 L1619.9,295.4 L1621.4,294.8 L1622.9,294.1 L1624.4,293.4 L1625.9,292.6 L1627.4,291.8 L1628.9,290.9 L1630.4,289.9 L1631.9,289.0 L1633.4,288.1 L1634.9,287.2 L1636.4,286.3 L1637.9,285.5 L1639.4,284.7 L1640.9,283.9 L1642.4,283.2 L1643.9,282.6 L1645.4,282.1 L1646.9,281.7 L1648.4,281.3 L1649.9,280.9 L1651.4,280.5 L1652.9,280.1 L1654.4,279.8 L1655.9,279.6 L1657.4,279.3 L1658.9,279.1 L1660.4,278.9 L1661.9,278.8 L1663.4,278.6 L1664.9,278.5 L1666.4,278.3 L1667.9,278.2 L1669.4,278.0 L1670.9,277.9 L1672.4,277.8 L1673.9,277.7 L1675.4,277.7 L1676.9,277.7 L1678.4,277.7 L1679.9,277.8 L1681.4,277.8 L1682.9,277.9 L1684.4,277.9 L1685.9,277.9 L1687.4,277.9 L1688.9,277.9 L1690.4,277.8 L1691.9,277.7 L1693.4,277.6 L1694.9,277.5 L1696.4,277.4 L1697.9,277.4 L1699.4,277.4 L1700.9,277.4 L1702.4,277.4 L1703.9,277.4 L1705.4,277.5 L1706.9,277.6 L1708.4,277.7 L1709.9,277.8 L1711.4,278.0 L1712.9,278.2 L1714.4,278.4 L1715.9,278.7 L1717.4,278.9 L1718.9,279.0" fill="none" stroke="#55c81a" stroke-width="3.5" stroke-linejoin="round"/>
<path d="M1061.9,286.1 L1063.4,286.0 L1064.9,285.9 L1066.4,285.6 L1067.9,285.4 L1069.4,285.1 L1070.9,285.0 L1072.4,284.9 L1073.9,284.8 L1075.4,284.8 L1076.9,284.7 L1078.4,284.7 L1079.9,284.7 L1081.4,284.7 L1082.9,284.7 L1084.4,284.6 L1085.9,284.5 L1087.4,284.3 L1088.9,284.0 L1090.4,283.6 L1091.9,283.2 L1093.4,282.7 L1094.9,282.2 L1096.4,281.7 L1097.9,281.2 L1099.4,280.7 L1100.9,280.3 L1102.4,280.0 L1103.9,279.6 L1105.4,279.3 L1106.9,279.1 L1108.4,278.8 L1109.9,278.7 L1111.4,278.6 L1112.9,278.6 L1114.4,278.6 L1115.9,278.6 L1117.4,278.6 L1118.9,278.7 L1120.4,278.8 L1121.9,278.9 L1123.4,279.0 L1124.9,279.2 L1126.4,279.4 L1127.9,279.5 L1129.4,279.7 L1130.9,280.0 L1132.4,280.3 L1133.9,280.7 L1135.4,281.3 L1136.9,281.8 L1138.4,282.4 L1139.9,283.0 L1141.4,283.6 L1142.9,284.2 L1144.4,284.8 L1145.9,285.3 L1147.4,285.8 L1148.9,286.3 L1150.4,286.7 L1151.9,287.1 L1153.4,287.5 L1154.9,287.9 L1156.4,288.2 L1157.9,288.5 L1159.4,288.8 L1160.9,289.1 L1162.4,289.2 L1163.9,289.4 L1165.4,289.4 L1166.9,289.3 L1168.4,289.1 L1169.9,288.8 L1171.4,288.3 L1172.9,287.6 L1174.4,286.7 L1175.9,285.8 L1177.4,284.8 L1178.9,283.9 L1180.4,283.0 L1181.9,282.1 L1183.4,281.4 L1184.9,280.7 L1186.4,280.2 L1187.9,279.8 L1189.4,279.4 L1190.9,279.1 L1192.4,278.9 L1193.9,278.8 L1195.4,278.7 L1196.9,278.7 L1198.4,278.6 L1199.9,278.7 L1201.4,278.8 L1202.9,278.9 L1204.4,279.1 L1205.9,279.4 L1207.4,279.7 L1208.9,280.0 L1210.4,280.3 L1211.9,280.5 L1213.4,280.8 L1214.9,281.1 L1216.4,281.3 L1217.9,281.6 L1219.4,281.9 L1220.9,282.2 L1222.4,282.5 L1223.9,283.0 L1225.4,283.5 L1226.9,284.1 L1228.4,284.9 L1229.9,285.7 L1231.4,286.6 L1232.9,287.6 L1234.4,288.6 L1235.9,289.4 L1237.4,290.2 L1238.9,290.9 L1240.4,291.5 L1241.9,292.0 L1243.4,292.5 L1244.9,293.0 L1246.4,293.4 L1247.9,293.8 L1249.4,294.1 L1250.9,294.3 L1252.4,294.5 L1253.9,294.7 L1255.4,294.8 L1256.9,294.9 L1258.4,294.9 L1259.9,294.9 L1261.4,294.9 L1262.9,294.9 L1264.4,295.0 L1265.9,295.1 L1267.4,295.3 L1268.9,295.7 L1270.4,296.1 L1271.9,296.7 L1273.4,297.4 L1274.9,298.1 L1276.4,298.8 L1277.9,299.6 L1279.4,300.6 L1280.9,301.8 L1282.4,303.0 L1283.9,304.1 L1285.4,305.2 L1286.9,306.2 L1288.4,307.0 L1289.9,307.9 L1291.4,308.6 L1292.9,309.2 L1294.4,309.7 L1295.9,310.1 L1297.4,310.4 L1298.9,310.7 L1300.4,310.9 L1301.9,311.0 L1303.4,311.1 L1304.9,311.1 L1306.4,311.1 L1307.9,311.1 L1309.4,311.2 L1310.9,311.2 L1312.4,311.3 L1313.9,311.5 L1315.4,311.9 L1316.9,312.5 L1318.4,313.3 L1319.9,314.3 L1321.4,315.5 L1322.9,316.9 L1324.4,318.5 L1325.9,320.4 L1327.4,322.4 L1328.9,324.7 L1330.4,327.1 L1331.9,329.7 L1333.4,332.4 L1334.9,335.3 L1336.4,338.2 L1337.9,341.2 L1339.4,344.2 L1340.9,347.2 L1342.4,350.2 L1343.9,353.3 L1345.4,356.3 L1346.9,359.1 L1348.4,361.8 L1349.9,364.3 L1351.4,366.6 L1352.9,368.6 L1354.4,370.1 L1355.9,371.1 L1357.4,371.5 L1358.9,371.4 L1360.4,370.5 L1361.9,369.0 L1363.4,366.9 L1364.9,364.1 L1366.4,360.8 L1367.9,357.0 L1369.4,352.9 L1370.9,348.3 L1372.4,343.4 L1373.9,337.9 L1375.4,332.0 L1376.9,325.3 L1378.4,317.8 L1379.9,309.3 L1381.4,300.7 L1382.9,292.7 L1384.4,285.3 L1385.9,278.3 L1387.4,271.9 L1388.9,265.8 L1390.4,259.8 L1391.9,253.9 L1393.4,248.2 L1394.9,242.7 L1396.4,237.5 L1397.9,232.6 L1399.4,228.0 L1400.9,223.6 L1402.4,219.4 L1403.9,215.4 L1405.4,211.7 L1406.9,208.5 L1408.4,205.7 L1409.9,203.3 L1411.4,201.3 L1412.9,199.5 L1414.4,198.0 L1415.9,196.7 L1417.4,195.7 L1418.9,195.0 L1420.4,194.5 L1421.9,194.0 L1423.4,193.7 L1424.9,193.5 L1426.4,193.4 L1427.9,193.4 L1429.4,193.6 L1430.9,193.9 L1432.4,194.3 L1433.9,195.0 L1435.4,195.9 L1436.9,197.1 L1438.4,198.5 L1439.9,200.3 L1441.4,202.4 L1442.9,204.8 L1444.4,207.4 L1445.9,210.1 L1447.4,212.8 L1448.9,215.5 L1450.4,218.4 L1451.9,221.6 L1453.4,225.1 L1454.9,228.7 L1456.4,232.2 L1457.9,235.7 L1459.4,239.2 L1460.9,242.7 L1462.4,246.2 L1463.9,249.7 L1465.4,253.2 L1466.9,256.5 L1468.4,259.7 L1469.9,262.6 L1471.4,265.3 L1472.9,267.6 L1474.4,269.7 L1475.9,271.6 L1477.4,273.1 L1478.9,274.3 L1480.4,275.2 L1481.9,275.9 L1483.4,276.2 L1484.9,276.4 L1486.4,276.5 L1487.9,276.5 L1489.4,276.4 L1490.9,276.1 L1492.4,275.8 L1493.9,275.4 L1495.4,275.0 L1496.9,274.6 L1498.4,274.3 L1499.9,274.1 L1501.4,274.0 L1502.9,273.7 L1504.4,273.2 L1505.9,272.6 L1507.4,272.1 L1508.9,271.6 L1510.4,271.1 L1511.9,270.8 L1513.4,270.6 L1514.9,270.4 L1516.4,270.3 L1517.9,270.2 L1519.4,270.2 L1520.9,270.2 L1522.4,270.2 L1523.9,270.2 L1525.4,270.3 L1526.9,270.4 L1528.4,270.5 L1529.9,270.7 L1531.4,270.8 L1532.9,270.9 L1534.4,271.0 L1535.9,271.2 L1537.4,271.3 L1538.9,271.5 L1540.4,271.8 L1541.9,272.0 L1543.4,272.3 L1544.9,272.6 L1546.4,272.9 L1547.9,273.2 L1549.4,273.6 L1550.9,274.0 L1552.4,274.5 L1553.9,274.9 L1555.4,275.5 L1556.9,276.1 L1558.4,276.8 L1559.9,277.5 L1561.4,278.3 L1562.9,279.1 L1564.4,279.9 L1565.9,280.8 L1567.4,281.7 L1568.9,282.6 L1570.4,283.7 L1571.9,284.8 L1573.4,285.9 L1574.9,287.0 L1576.4,288.1 L1577.9,289.2 L1579.4,290.3 L1580.9,291.3 L1582.4,292.4 L1583.9,293.3 L1585.4,294.3 L1586.9,295.3 L1588.4,296.2 L1589.9,297.0 L1591.4,297.9 L1592.9,298.7 L1594.4,299.5 L1595.9,300.3 L1597.4,301.0 L1598.9,301.8 L1600.4,302.5 L1601.9,303.2 L1603.4,303.8 L1604.9,304.5 L1606.4,305.1 L1607.9,305.8 L1609.4,306.4 L1610.9,307.0 L1612.4,307.7 L1613.9,308.3 L1615.4,308.8 L1616.9,309.4 L1618.4,310.0 L1619.9,310.6 L1621.4,311.1 L1622.9,311.6 L1624.4,312.0 L1625.9,312.5 L1627.4,312.9 L1628.9,313.3 L1630.4,313.7 L1631.9,314.0 L1633.4,314.2 L1634.9,314.4 L1636.4,314.5 L1637.9,314.5 L1639.4,314.4 L1640.9,314.2 L1642.4,313.9 L1643.9,313.6 L1645.4,313.2 L1646.9,312.8 L1648.4,312.4 L1649.9,312.1 L1651.4,311.8 L1652.9,311.6 L1654.4,311.5 L1655.9,311.5 L1657.4,311.6 L1658.9,311.8 L1660.4,312.1 L1661.9,312.5 L1663.4,312.9 L1664.9,313.4 L1666.4,313.9 L1667.9,314.4 L1669.4,314.8 L1670.9,315.2 L1672.4,315.5 L1673.9,315.8 L1675.4,316.1 L1676.9,316.3 L1678.4,316.5 L1679.9,316.7 L1681.4,316.9 L1682.9,317.2 L1684.4,317.6 L1685.9,318.0 L1687.4,318.5 L1688.9,319.1 L1690.4,319.7 L1691.9,320.4 L1693.4,321.2 L1694.9,321.9 L1696.4,322.7 L1697.9,323.4 L1699.4,324.0 L1700.9,324.6 L1702.4,325.2 L1703.9,325.7 L1705.4,326.1 L1706.9,326.5 L1708.4,326.7 L1709.9,326.7 L1711.4,326.6 L1712.9,326.4 L1714.4,326.2 L1715.9,325.9 L1717.4,325.7 L1718.9,325.5" fill="none" stroke="#cc1414" stroke-width="3.5" stroke-linejoin="round"/>
</g>
<line x1="1281.2" y1="78.8" x2="1281.2" y2="491.8" stroke="#000" stroke-width="2"/>
<rect x="1062.9" y="78.8" width="654.9" height="413.0" fill="none" stroke="#000" stroke-width="2.1"/>
<line x1="446.9" y1="186.6" x2="503.3" y2="217.5" stroke="#000" stroke-width="2.1"/>
<line x1="426.5" y1="279.2" x2="533.6" y2="396.2" stroke="#000" stroke-width="2.2"/>
<line x1="429.3" y1="331.5" x2="411.8" y2="385.3" stroke="#000" stroke-width="1.9"/>
<line x1="1368.9" y1="193.3" x2="1421.9" y2="193.3" stroke="#000" stroke-width="2.0"/>
<line x1="1358" y1="290.1" x2="1455.7" y2="396.5" stroke="#000" stroke-width="2.2"/>
<line x1="1357.4" y1="373.3" x2="1325" y2="396.7" stroke="#000" stroke-width="2.0"/>
<line x1="139.4" y1="211.7" x2="139.4" y2="315" stroke="#000" stroke-width="1.4"/>
<rect x="711.2" y="349.7" width="10.1" height="100.6" fill="url(#cb)" stroke="#777" stroke-opacity="0.5" stroke-width="0.7"/>
<rect x="1624.3" y="349.7" width="10.1" height="100.6" fill="url(#cb)" stroke="#777" stroke-opacity="0.5" stroke-width="0.7"/>
<g transform="translate(368,145) scale(0.09877)">
<clipPath id="tc1"><circle cx="406.5" cy="410" r="336"/></clipPath>
<g clip-path="url(#tc1)">
<radialGradient id="tg1" gradientUnits="userSpaceOnUse" cx="405" cy="355" r="420"><stop offset="0" stop-color="#ff0d0d"/><stop offset="0.1" stop-color="#ff1a1a"/><stop offset="0.2" stop-color="#fd4a4a"/><stop offset="0.35" stop-color="#fb8080"/><stop offset="0.55" stop-color="#f9b4b4"/><stop offset="0.8" stop-color="#fbd2d2"/><stop offset="1" stop-color="#fde6e6"/></radialGradient><rect x="0" y="0" width="810" height="810" fill="url(#tg1)"/><filter id="bl1" x="-50%" y="-50%" width="200%" height="200%"><feGaussianBlur stdDeviation="14"/></filter><ellipse cx="560" cy="650" rx="130" ry="70" fill="#fff" fill-opacity="0.4" transform="rotate(-25 560 650)" filter="url(#bl1)"/><ellipse cx="712" cy="470" rx="82" ry="140" fill="#fff" transform="rotate(12 712 470)" filter="url(#bl1)"/><path d="M452,355C452,364 450,376 445,384C440,392 429,399 420,402C411,404 399,403 390,400C381,397 372,391 366,383C361,376 357,364 357,355C357,346 360,334 366,326C371,319 381,311 390,308C399,306 411,308 419,311C428,314 437,320 442,328C448,335 451,346 452,355Z" fill="none" stroke="#333" stroke-opacity="0.62" stroke-width="5.5"/><path d="M484,360C485,376 486,397 477,410C469,423 448,435 433,438C418,441 401,433 386,428C371,423 353,419 342,408C331,396 320,376 320,360C320,344 334,326 345,314C356,302 370,295 385,289C400,283 420,274 435,278C450,282 466,298 474,312C482,326 484,344 484,360Z" fill="none" stroke="#333" stroke-opacity="0.62" stroke-width="5.5"/><path d="M512,365C513,389 521,418 511,438C500,458 471,481 449,486C427,490 399,475 377,466C355,457 331,450 316,434C300,417 281,387 283,365C284,343 308,319 323,302C339,284 355,269 376,260C397,250 428,237 450,243C471,249 495,275 505,296C516,316 511,341 512,365Z" fill="none" stroke="#333" stroke-opacity="0.62" stroke-width="5.5"/><path d="M543,360C543,387 554,414 546,442C539,469 523,510 499,523C475,535 432,525 405,517C378,510 361,490 337,477C313,465 282,463 260,444C239,424 209,388 209,360C209,332 241,298 262,277C282,257 309,249 333,236C357,222 377,202 405,195C433,189 477,181 500,195C523,210 535,253 542,281C549,308 542,333 543,360Z" fill="none" stroke="#333" stroke-opacity="0.62" stroke-width="5.5"/><path d="M190,300C196,263 215,209 250,180C285,151 351,130 400,125C449,120 513,129 545,150C577,171 585,208 590,250C595,292 593,349 575,400C557,451 509,527 480,555C451,583 430,579 400,570C370,561 331,528 300,500C269,472 233,433 215,400C197,367 184,337 190,300Z" fill="none" stroke="#333" stroke-opacity="0.62" stroke-width="5.5"/><path d="M85,330C91,348 101,404 120,440C139,476 165,515 200,545C235,575 290,604 330,620C370,636 415,628 440,640C465,652 465,687 480,690C495,693 525,678 530,660C535,642 502,617 510,580C518,543 560,487 580,440C600,393 621,340 630,300C639,260 640,227 635,200C630,173 606,150 600,140" fill="none" stroke="#333" stroke-opacity="0.62" stroke-width="5.5"/><path d="M640,610C634,595 605,550 605,520C605,490 624,457 640,430C656,403 684,378 700,360C716,342 729,327 735,320" fill="none" stroke="#333" stroke-opacity="0.62" stroke-width="5.5"/>
</g></g>
<line x1="402.3" y1="153.6" x2="404.0" y2="150.4" stroke="#1a1a1a" stroke-width="1.4"/>
<line x1="414.0" y1="153.6" x2="412.3" y2="150.4" stroke="#1a1a1a" stroke-width="1.4"/>
<line x1="376.3" y1="177.7" x2="373.6" y2="176.4" stroke="#1a1a1a" stroke-width="1.2"/>
<line x1="376.3" y1="193.3" x2="373.6" y2="194.6" stroke="#1a1a1a" stroke-width="1.2"/>
<line x1="440.0" y1="177.7" x2="442.7" y2="176.4" stroke="#1a1a1a" stroke-width="1.2"/>
<line x1="440.0" y1="193.3" x2="442.7" y2="194.6" stroke="#1a1a1a" stroke-width="1.2"/>
<circle cx="408.14814814814815" cy="185.49382716049382" r="33.18518518518518" fill="none" stroke="#222" stroke-width="0.9"/>
<g transform="translate(369,399) scale(0.09877)">
<clipPath id="tc3"><circle cx="405" cy="407.5" r="338"/></clipPath>
<g clip-path="url(#tc3)">
<radialGradient id="tg3" gradientUnits="userSpaceOnUse" cx="410" cy="388" r="345"><stop offset="0" stop-color="#58abff"/><stop offset="0.35" stop-color="#64b1ff"/><stop offset="0.55" stop-color="#8ac3ff"/><stop offset="0.72" stop-color="#b2d7ff"/><stop offset="0.86" stop-color="#d4e8ff"/><stop offset="0.96" stop-color="#f2f8ff"/><stop offset="1" stop-color="#ffffff"/></radialGradient><rect x="0" y="0" width="810" height="810" fill="url(#tg3)"/><path d="M310,330C317,307 337,292 360,280C383,268 423,257 450,260C477,263 510,280 520,300C530,320 522,362 510,380C498,398 468,403 450,410C432,417 408,412 400,420C392,428 391,445 400,455C409,465 447,468 455,480C463,492 459,519 450,530C441,541 415,550 400,545C385,540 373,521 360,500C347,479 328,448 320,420C312,392 303,353 310,330Z" fill="none" stroke="#333" stroke-opacity="0.62" stroke-width="5.5"/><path d="M552,402C553,426 549,454 537,476C525,497 503,517 481,530C459,542 430,552 405,551C380,550 353,538 332,525C310,512 290,494 278,473C265,453 259,426 259,402C259,378 266,352 278,331C289,309 308,286 329,274C350,262 380,260 405,260C430,261 459,264 480,276C501,287 520,310 532,331C544,352 552,378 552,402Z" fill="none" stroke="#333" stroke-opacity="0.62" stroke-width="5.5"/><path d="M587,402C588,432 582,467 567,493C553,519 526,544 499,559C472,575 436,587 405,586C374,585 341,570 315,554C288,538 263,515 248,490C233,465 225,431 225,402C225,373 233,340 248,314C262,288 285,259 311,244C337,230 374,227 405,227C436,228 472,232 498,246C524,261 547,288 562,314C577,340 586,372 587,402Z" fill="none" stroke="#333" stroke-opacity="0.62" stroke-width="5.5"/><path d="M616,402C617,437 611,477 594,508C577,538 545,567 514,585C482,603 441,617 405,616C369,615 330,597 300,579C269,560 240,534 222,504C205,475 195,436 195,402C195,368 206,330 222,300C239,269 265,235 296,218C326,202 369,198 405,199C441,199 482,204 513,221C543,238 570,270 587,300C605,330 615,367 616,402Z" fill="none" stroke="#333" stroke-opacity="0.62" stroke-width="5.5"/><path d="M644,402C645,441 637,487 618,521C599,556 564,588 528,609C493,629 445,645 405,643C365,642 321,623 286,602C252,581 218,551 199,518C179,484 168,441 168,402C168,363 180,321 199,286C218,252 247,214 282,195C316,176 364,172 405,172C446,173 492,178 527,197C561,216 592,252 611,287C631,321 643,363 644,402Z" fill="none" stroke="#333" stroke-opacity="0.62" stroke-width="5.5"/><path d="M670,402C672,445 663,496 642,535C620,573 581,609 542,632C502,654 450,672 405,670C360,669 311,647 273,624C235,601 197,567 176,530C154,494 142,445 142,402C142,359 155,312 176,274C197,235 230,193 268,171C306,150 360,146 405,147C450,147 502,154 540,175C578,196 612,236 634,274C656,312 669,359 670,402Z" fill="none" stroke="#333" stroke-opacity="0.62" stroke-width="5.5"/><path d="M695,402C696,450 687,505 664,547C640,589 598,628 554,653C511,678 454,697 405,695C356,694 303,670 261,644C219,619 178,583 154,542C130,502 117,449 117,402C117,355 131,304 154,262C177,220 213,173 255,150C297,127 355,123 405,123C455,124 511,131 553,154C595,177 632,220 655,262C679,303 694,354 695,402Z" fill="none" stroke="#333" stroke-opacity="0.62" stroke-width="5.5"/><path d="M718,402C719,453 709,513 684,558C659,603 613,646 566,673C520,699 458,720 405,718C352,716 295,691 249,663C204,636 161,597 135,553C109,510 95,452 95,402C95,352 110,296 135,251C160,205 198,155 243,130C288,106 352,101 405,102C458,102 519,109 564,134C609,159 649,206 675,251C700,295 716,351 718,402Z" fill="none" stroke="#333" stroke-opacity="0.62" stroke-width="5.5"/>
</g></g>
<line x1="403.2" y1="407.2" x2="404.8" y2="404.0" stroke="#1a1a1a" stroke-width="1.4"/>
<line x1="414.8" y1="407.2" x2="413.2" y2="404.0" stroke="#1a1a1a" stroke-width="1.4"/>
<line x1="377.0" y1="431.4" x2="374.3" y2="430.1" stroke="#1a1a1a" stroke-width="1.2"/>
<line x1="377.0" y1="447.1" x2="374.3" y2="448.4" stroke="#1a1a1a" stroke-width="1.2"/>
<line x1="441.0" y1="431.4" x2="443.7" y2="430.1" stroke="#1a1a1a" stroke-width="1.2"/>
<line x1="441.0" y1="447.1" x2="443.7" y2="448.4" stroke="#1a1a1a" stroke-width="1.2"/>
<circle cx="409.0" cy="439.2469135802469" r="33.382716049382715" fill="none" stroke="#222" stroke-width="0.9"/>
<g transform="translate(1291,145) scale(0.09877)">
<clipPath id="tc5"><circle cx="406.5" cy="407.5" r="335"/></clipPath>
<g clip-path="url(#tc5)">
<radialGradient id="tg5" gradientUnits="userSpaceOnUse" cx="428" cy="404" r="340"><stop offset="0" stop-color="#b40000"/><stop offset="0.18" stop-color="#c40000"/><stop offset="0.31" stop-color="#e00000"/><stop offset="0.44" stop-color="#f40000"/><stop offset="0.545" stop-color="#ff1414"/><stop offset="0.63" stop-color="#ff4848"/><stop offset="0.72" stop-color="#ff8a8a"/><stop offset="0.82" stop-color="#ffc4c4"/><stop offset="0.955" stop-color="#ffffff"/></radialGradient><rect x="0" y="0" width="810" height="810" fill="url(#tg5)"/><path d="M515,405C515,420 514,438 506,451C499,465 484,478 470,485C455,492 436,497 420,496C404,495 387,489 372,482C358,474 342,465 333,452C324,439 319,420 319,405C319,390 326,373 335,359C344,346 357,333 371,326C385,319 404,316 420,316C436,317 453,323 467,330C481,337 496,348 504,360C512,373 514,390 515,405Z" fill="none" stroke="#333" stroke-opacity="0.62" stroke-width="5.5"/><path d="M555,405C556,427 554,452 544,471C533,490 512,509 491,519C470,530 443,536 420,535C397,534 373,525 352,515C331,504 308,490 295,472C282,454 275,427 276,405C276,383 286,359 299,340C311,321 330,302 350,292C370,282 397,277 420,278C443,279 467,287 487,298C506,308 528,323 540,341C551,359 555,383 555,405Z" fill="none" stroke="#333" stroke-opacity="0.62" stroke-width="5.5"/><path d="M590,405C591,432 589,464 575,488C562,512 535,535 509,549C483,562 449,569 420,568C391,567 361,556 334,543C308,530 279,512 263,489C247,466 238,433 239,405C239,377 252,347 267,323C283,299 307,276 332,263C357,250 391,244 420,246C449,247 479,257 504,270C529,283 556,302 570,324C585,347 589,378 590,405Z" fill="none" stroke="#333" stroke-opacity="0.62" stroke-width="5.5"/><path d="M621,405C622,437 619,475 604,504C588,532 556,559 525,575C495,591 454,599 420,598C386,597 350,583 319,568C288,552 253,532 235,505C216,477 205,438 206,405C206,372 221,336 240,308C258,280 286,253 316,237C346,222 386,215 420,217C454,218 489,230 519,246C548,261 581,283 598,310C615,336 620,373 621,405Z" fill="none" stroke="#333" stroke-opacity="0.62" stroke-width="5.5"/><path d="M650,405C651,442 648,485 630,518C612,550 576,581 541,599C506,617 459,627 420,626C381,625 340,609 304,591C269,573 229,550 208,519C186,488 174,442 175,405C176,368 193,326 214,294C235,262 267,231 301,213C335,196 381,188 420,190C459,191 499,205 533,223C567,241 604,265 623,296C643,326 649,368 650,405Z" fill="none" stroke="#333" stroke-opacity="0.62" stroke-width="5.5"/><path d="M676,405C677,446 674,495 654,531C634,567 593,601 554,621C515,641 464,652 420,651C376,649 331,632 291,612C252,593 208,566 184,532C160,497 146,447 147,405C148,363 167,317 190,282C214,246 249,211 287,191C326,172 377,163 420,165C463,167 508,182 546,202C584,222 625,250 647,283C668,317 675,364 676,405Z" fill="none" stroke="#333" stroke-opacity="0.62" stroke-width="5.5"/><path d="M700,405C702,450 698,503 676,542C654,582 610,620 567,642C524,664 468,676 420,674C372,673 322,654 279,632C236,610 188,582 162,544C135,506 120,451 121,405C122,359 143,309 169,270C194,231 233,193 275,171C317,150 373,140 420,142C467,144 516,161 558,183C599,205 644,235 668,272C692,309 699,360 700,405Z" fill="none" stroke="#333" stroke-opacity="0.62" stroke-width="5.5"/>
</g></g>
<line x1="1325.3" y1="153.5" x2="1327.0" y2="150.3" stroke="#1a1a1a" stroke-width="1.4"/>
<line x1="1337.0" y1="153.5" x2="1335.3" y2="150.3" stroke="#1a1a1a" stroke-width="1.4"/>
<line x1="1299.4" y1="177.4" x2="1296.7" y2="176.1" stroke="#1a1a1a" stroke-width="1.2"/>
<line x1="1299.4" y1="193.1" x2="1296.7" y2="194.4" stroke="#1a1a1a" stroke-width="1.2"/>
<line x1="1362.9" y1="177.4" x2="1365.6" y2="176.1" stroke="#1a1a1a" stroke-width="1.2"/>
<line x1="1362.9" y1="193.1" x2="1365.6" y2="194.4" stroke="#1a1a1a" stroke-width="1.2"/>
<circle cx="1331.148148148148" cy="185.2469135802469" r="33.08641975308642" fill="none" stroke="#222" stroke-width="0.9"/>
<g transform="translate(1291,399) scale(0.09877)">
<clipPath id="tc7"><circle cx="405" cy="408.5" r="337"/></clipPath>
<g clip-path="url(#tc7)">
<radialGradient id="tg7" gradientUnits="userSpaceOnUse" cx="442" cy="424" r="338"><stop offset="0" stop-color="#002cac"/><stop offset="0.22" stop-color="#0036bc"/><stop offset="0.36" stop-color="#0048d4"/><stop offset="0.5" stop-color="#0062f2"/><stop offset="0.62" stop-color="#2a84ff"/><stop offset="0.72" stop-color="#62a8ff"/><stop offset="0.81" stop-color="#a2caff"/><stop offset="0.9" stop-color="#d6e8ff"/><stop offset="0.97" stop-color="#ffffff"/></radialGradient><rect x="0" y="0" width="810" height="810" fill="url(#tg7)"/><path d="M538,420C537,437 533,455 524,469C516,484 502,500 486,507C471,515 450,516 432,515C414,515 394,513 379,506C363,498 347,485 338,471C328,456 322,436 323,420C324,404 335,387 344,373C353,358 364,343 379,334C393,326 414,321 432,321C450,321 469,327 485,335C500,343 518,355 527,369C536,383 538,403 538,420Z" fill="none" stroke="#333" stroke-opacity="0.62" stroke-width="5.5"/><path d="M583,420C582,444 576,470 564,491C551,511 531,534 509,545C487,556 458,557 432,556C406,556 378,553 356,543C333,532 310,513 297,492C284,472 274,443 276,420C277,397 293,373 306,352C320,332 335,310 356,297C377,285 407,279 432,279C457,279 484,288 507,299C530,311 555,327 568,347C581,367 584,396 583,420Z" fill="none" stroke="#333" stroke-opacity="0.62" stroke-width="5.5"/><path d="M619,420C618,450 610,482 595,508C580,533 555,561 528,575C501,588 464,590 432,589C400,589 365,585 338,572C310,559 281,535 265,510C248,485 237,449 238,420C240,391 259,362 276,336C293,311 312,283 338,268C364,253 401,245 432,245C463,245 497,256 525,270C553,284 585,305 601,329C616,354 620,390 619,420Z" fill="none" stroke="#333" stroke-opacity="0.62" stroke-width="5.5"/><path d="M650,420C648,454 639,492 622,522C604,552 575,584 543,599C512,615 469,617 432,616C395,616 355,612 322,597C290,581 257,554 238,524C218,495 205,454 207,420C209,386 232,352 251,323C270,293 292,261 322,243C353,226 396,216 432,217C468,217 507,230 540,246C573,262 610,286 628,315C646,344 651,386 650,420Z" fill="none" stroke="#333" stroke-opacity="0.62" stroke-width="5.5"/><path d="M680,420C679,459 668,502 648,536C628,570 595,606 559,624C523,642 474,644 432,644C390,643 344,639 307,621C270,604 232,572 211,539C189,505 173,458 176,420C178,382 204,343 226,309C248,276 273,239 307,219C342,199 391,188 432,189C473,189 518,203 555,222C592,240 634,267 655,300C676,333 681,381 680,420Z" fill="none" stroke="#333" stroke-opacity="0.62" stroke-width="5.5"/><path d="M706,420C705,463 693,510 671,548C648,586 612,626 572,646C533,666 478,668 432,667C386,667 335,662 294,642C253,623 211,588 187,551C163,514 146,462 149,420C152,378 180,335 204,297C228,260 256,220 294,198C332,175 386,164 432,164C478,165 527,180 568,201C609,221 656,251 679,288C702,324 707,377 706,420Z" fill="none" stroke="#333" stroke-opacity="0.62" stroke-width="5.5"/><path d="M730,420C729,467 716,518 692,559C668,600 628,644 585,666C541,688 482,690 432,689C382,688 326,683 282,662C237,641 192,603 166,563C139,523 121,466 124,420C127,374 157,327 184,287C210,246 240,202 282,178C323,154 382,141 432,141C482,142 535,159 580,182C625,204 675,236 700,276C725,316 732,373 730,420Z" fill="none" stroke="#333" stroke-opacity="0.62" stroke-width="5.5"/>
</g></g>
<line x1="1325.2" y1="407.4" x2="1326.8" y2="404.2" stroke="#1a1a1a" stroke-width="1.4"/>
<line x1="1336.8" y1="407.4" x2="1335.2" y2="404.2" stroke="#1a1a1a" stroke-width="1.4"/>
<line x1="1299.1" y1="431.5" x2="1296.4" y2="430.2" stroke="#1a1a1a" stroke-width="1.2"/>
<line x1="1299.1" y1="447.2" x2="1296.4" y2="448.5" stroke="#1a1a1a" stroke-width="1.2"/>
<line x1="1362.9" y1="431.5" x2="1365.6" y2="430.2" stroke="#1a1a1a" stroke-width="1.2"/>
<line x1="1362.9" y1="447.2" x2="1365.6" y2="448.5" stroke="#1a1a1a" stroke-width="1.2"/>
<circle cx="1331.0" cy="439.34567901234567" r="33.28395061728395" fill="none" stroke="#222" stroke-width="0.9"/>
<g transform="translate(552,145) scale(0.09877)">
<clipPath id="tc2"><circle cx="407.5" cy="403.5" r="331"/></clipPath>
<g clip-path="url(#tc2)">
<rect x="0" y="0" width="810" height="810" fill="#fff"/><path d="M440,60C475,72 467,110 460,130C453,150 427,170 400,180C373,190 320,183 300,190C280,197 277,208 280,220C283,232 300,255 320,260C340,265 377,248 400,250C423,252 443,255 460,270C477,285 493,312 500,340C507,368 493,410 500,440C507,470 540,497 540,520C540,543 523,567 500,580C477,593 428,607 400,600C372,593 358,560 330,540C302,520 265,487 230,480C195,473 152,508 120,500C88,492 53,463 40,430C27,397 28,345 40,300C52,255 75,200 110,160C145,120 195,77 250,60C305,43 405,48 440,60Z" fill="#fde9e9"/><ellipse cx="215" cy="240" rx="22" ry="40" fill="#fff"/><ellipse cx="235" cy="340" rx="14" ry="35" fill="#fff"/><ellipse cx="605" cy="378" rx="28" ry="45" fill="#fde9e9" transform="rotate(35 605 378)"/><path d="M449,412C448,429 440,448 429,460C419,472 401,481 385,485C368,489 345,492 330,484C316,476 303,456 298,439C292,422 291,400 296,385C302,369 318,352 333,344C347,336 368,334 385,337C402,339 423,347 434,360C445,373 449,395 449,412Z" fill="none" stroke="#333" stroke-opacity="0.62" stroke-width="5.5"/><path d="M290,400C290,377 302,347 320,330C338,313 378,300 400,300C422,300 438,312 450,330C462,348 472,382 470,410C468,438 457,482 440,500C423,518 390,525 370,520C350,515 333,490 320,470C307,450 290,423 290,400Z" fill="none" stroke="#333" stroke-opacity="0.62" stroke-width="5.5"/><path d="M220,450C215,428 257,403 270,380C283,357 278,328 300,310C322,292 372,277 400,275C428,273 453,279 470,300C487,321 490,372 500,400C510,428 527,443 530,470C533,497 533,540 520,560C507,580 473,587 450,590C427,593 405,593 380,580C355,567 327,532 300,510C273,488 225,472 220,450Z" fill="none" stroke="#333" stroke-opacity="0.62" stroke-width="5.5"/><path d="M150,210C157,223 181,262 190,290C199,318 196,365 205,375C214,385 239,368 245,350C251,332 232,288 240,270C248,252 272,240 290,240C308,240 327,263 350,268C373,273 407,258 430,268C453,278 480,320 490,330" fill="none" stroke="#333" stroke-opacity="0.62" stroke-width="5.5"/><path d="M130,180C158,177 255,168 300,160C345,152 376,142 400,130C424,118 438,92 445,85" fill="none" stroke="#333" stroke-opacity="0.62" stroke-width="5.5"/><ellipse cx="600" cy="230" rx="38" ry="58" transform="rotate(30 600 230)" fill="none" stroke="#333" stroke-opacity="0.62" stroke-width="5.5"/><ellipse cx="605" cy="378" rx="22" ry="40" transform="rotate(35 605 378)" fill="none" stroke="#333" stroke-opacity="0.62" stroke-width="5.5"/><ellipse cx="520" cy="345" rx="9" ry="22" fill="none" stroke="#333" stroke-opacity="0.62" stroke-width="5.5"/><path d="M515,100C504,118 448,178 450,210C452,242 502,275 530,290C558,305 590,305 620,300C650,295 695,267 710,260" fill="none" stroke="#333" stroke-opacity="0.62" stroke-width="5.5"/><path d="M560,110C552,125 510,173 510,200C510,227 538,258 560,270C582,282 617,277 640,270C663,263 690,237 700,230" fill="none" stroke="#333" stroke-opacity="0.62" stroke-width="5.5"/><path d="M100,510C122,507 192,478 230,490C268,502 302,555 330,580C358,605 378,637 400,640C422,643 437,612 460,600C483,588 522,587 540,570C558,553 553,522 570,500C587,478 613,457 640,440C667,423 715,407 730,400" fill="none" stroke="#333" stroke-opacity="0.62" stroke-width="5.5"/><path d="M115,535C134,530 194,494 230,505C266,516 300,575 330,600C360,625 387,654 410,655C433,656 445,620 470,608C495,596 540,601 560,585C580,569 573,532 590,510C607,488 636,468 660,455C684,442 722,434 735,430" fill="none" stroke="#333" stroke-opacity="0.62" stroke-width="5.5"/><path d="M135,565C152,558 202,516 235,525C268,534 299,598 330,622C361,646 395,672 420,672C445,672 453,634 480,622C507,610 558,615 580,600C602,585 590,552 610,530C630,508 685,480 700,470" fill="none" stroke="#333" stroke-opacity="0.62" stroke-width="5.5"/><ellipse cx="235" cy="582" rx="40" ry="28" transform="rotate(20 235 582)" fill="none" stroke="#333" stroke-opacity="0.62" stroke-width="5.5"/><path d="M470,610C465,619 450,646 440,665C430,684 415,715 410,725" fill="none" stroke="#333" stroke-opacity="0.62" stroke-width="5.5"/><path d="M475,610C484,615 510,630 530,640C550,650 584,667 595,672" fill="none" stroke="#333" stroke-opacity="0.62" stroke-width="5.5"/>
</g></g>
<line x1="586.4" y1="153.5" x2="588.1" y2="150.3" stroke="#1a1a1a" stroke-width="1.4"/>
<line x1="598.1" y1="153.5" x2="596.4" y2="150.3" stroke="#1a1a1a" stroke-width="1.4"/>
<line x1="560.9" y1="177.0" x2="558.2" y2="175.7" stroke="#1a1a1a" stroke-width="1.2"/>
<line x1="560.9" y1="192.7" x2="558.2" y2="194.0" stroke="#1a1a1a" stroke-width="1.2"/>
<line x1="623.5" y1="177.0" x2="626.2" y2="175.7" stroke="#1a1a1a" stroke-width="1.2"/>
<line x1="623.5" y1="192.7" x2="626.2" y2="194.0" stroke="#1a1a1a" stroke-width="1.2"/>
<circle cx="592.2469135802469" cy="184.85185185185185" r="32.69135802469136" fill="none" stroke="#222" stroke-width="0.9"/>
<g transform="translate(508,399) scale(0.09877)">
<clipPath id="tc4"><circle cx="405" cy="401.5" r="334"/></clipPath>
<g clip-path="url(#tc4)">
<rect x="0" y="0" width="810" height="810" fill="#fff"/><ellipse cx="400" cy="300" rx="150" ry="135" fill="#fdeaea" fill-opacity="0.6"/><path d="M270,250C281,231 310,205 330,195C350,185 379,181 390,190C401,199 398,227 395,250C392,273 379,306 375,330C371,354 378,383 370,395C362,407 344,406 330,400C316,394 296,375 285,360C274,345 264,328 262,310C260,292 259,269 270,250Z" fill="#fce5e5"/><path d="M500,245C511,240 535,239 545,250C555,261 561,287 560,310C559,333 550,370 540,390C530,410 514,425 500,430C486,435 466,429 455,420C444,411 432,392 432,375C432,358 447,336 455,320C463,304 472,292 480,280C488,268 489,250 500,245Z" fill="#fce5e5"/><path d="M270,250C281,231 310,205 330,195C350,185 379,181 390,190C401,199 398,227 395,250C392,273 379,306 375,330C371,354 378,383 370,395C362,407 344,406 330,400C316,394 296,375 285,360C274,345 264,328 262,310C260,292 259,269 270,250Z" fill="none" stroke="#333" stroke-opacity="0.62" stroke-width="5.5"/><path d="M500,245C511,240 535,239 545,250C555,261 561,287 560,310C559,333 550,370 540,390C530,410 514,425 500,430C486,435 466,429 455,420C444,411 432,392 432,375C432,358 447,336 455,320C463,304 472,292 480,280C488,268 489,250 500,245Z" fill="none" stroke="#333" stroke-opacity="0.62" stroke-width="5.5"/><ellipse cx="662" cy="400" rx="42" ry="22" transform="rotate(-15 662 400)" fill="none" stroke="#333" stroke-opacity="0.62" stroke-width="5.5"/><circle cx="592" cy="542" r="11" fill="none" stroke="#333" stroke-opacity="0.62" stroke-width="5.5"/><path d="M385,85C371,96 324,122 300,150C276,178 248,212 240,250C232,288 240,348 250,380C260,412 275,422 300,440C325,458 367,483 400,490C433,497 472,488 500,480C528,472 553,457 570,440C587,423 597,403 600,380C603,357 600,333 590,300C580,267 553,213 540,180C527,147 515,113 510,100" fill="none" stroke="#333" stroke-opacity="0.62" stroke-width="5.5"/><path d="M330,90C317,105 269,147 250,180C231,213 217,248 215,290C213,332 221,393 240,430C259,467 300,490 330,510C360,530 392,545 420,550C448,555 472,550 500,540C528,530 572,510 590,490C608,470 600,443 610,420C620,397 645,373 650,350C655,327 647,300 640,280C633,260 616,252 610,230C604,208 606,163 605,150" fill="none" stroke="#333" stroke-opacity="0.62" stroke-width="5.5"/><path d="M270,110C262,125 238,165 225,200C212,235 196,280 195,320C194,360 202,407 220,440C238,473 270,497 300,520C330,543 370,572 400,580C430,588 458,578 480,570C502,562 522,537 530,530" fill="none" stroke="#333" stroke-opacity="0.62" stroke-width="5.5"/><path d="M240,120C236,137 225,183 215,220C205,257 183,302 180,340C177,378 178,417 195,450C212,483 249,515 280,540C311,565 353,583 380,600C407,617 422,620 440,640C458,660 482,707 490,720" fill="none" stroke="#333" stroke-opacity="0.62" stroke-width="5.5"/><path d="M205,140C204,158 207,213 200,250C193,287 169,325 165,360C161,395 159,428 175,460C191,492 231,528 260,555C289,582 328,599 350,620C372,641 387,661 395,680C403,699 399,726 400,735" fill="none" stroke="#333" stroke-opacity="0.62" stroke-width="5.5"/><path d="M165,190C166,205 184,254 170,280C156,306 95,334 80,345" fill="none" stroke="#333" stroke-opacity="0.62" stroke-width="5.5"/><path d="M85,435C94,438 122,438 140,450C158,462 182,500 190,510" fill="none" stroke="#333" stroke-opacity="0.62" stroke-width="5.5"/><path d="M250,680C243,670 218,639 210,620C202,601 195,577 200,565C205,553 223,548 240,550C257,552 280,565 300,580C320,595 344,620 360,640C376,660 389,690 395,700" fill="none" stroke="#333" stroke-opacity="0.62" stroke-width="5.5"/>
</g></g>
<line x1="542.2" y1="407.0" x2="543.8" y2="403.8" stroke="#1a1a1a" stroke-width="1.4"/>
<line x1="553.8" y1="407.0" x2="552.2" y2="403.8" stroke="#1a1a1a" stroke-width="1.4"/>
<line x1="516.4" y1="430.8" x2="513.7" y2="429.5" stroke="#1a1a1a" stroke-width="1.2"/>
<line x1="516.4" y1="446.5" x2="513.7" y2="447.8" stroke="#1a1a1a" stroke-width="1.2"/>
<line x1="579.6" y1="430.8" x2="582.3" y2="429.5" stroke="#1a1a1a" stroke-width="1.2"/>
<line x1="579.6" y1="446.5" x2="582.3" y2="447.8" stroke="#1a1a1a" stroke-width="1.2"/>
<circle cx="548.0" cy="438.65432098765433" r="32.98765432098765" fill="none" stroke="#222" stroke-width="0.9"/>
<g transform="translate(1474,145) scale(0.09877)">
<clipPath id="tc6"><circle cx="397.5" cy="402.5" r="334"/></clipPath>
<g clip-path="url(#tc6)">
<rect x="0" y="0" width="810" height="810" fill="#fff"/><path d="M520,110C540,105 573,130 600,150C627,170 673,205 680,230C687,255 655,275 640,300C625,325 603,353 590,380C577,407 572,433 560,460C548,487 537,530 520,540C503,550 475,535 460,520C445,505 432,487 430,450C428,413 448,335 450,300C452,265 435,260 440,240C445,220 467,202 480,180C493,158 500,115 520,110Z" fill="#e9f0fb"/><path d="M125,225C131,246 149,311 160,350C171,389 198,428 190,460C182,492 123,531 110,545" fill="none" stroke="#333" stroke-opacity="0.62" stroke-width="5.5"/><path d="M215,140C209,157 180,205 180,240C180,275 204,315 215,350C226,385 248,418 245,450C242,482 212,512 200,540C188,568 179,607 175,620" fill="none" stroke="#333" stroke-opacity="0.62" stroke-width="5.5"/><path d="M390,80C375,92 326,130 300,150C274,170 247,177 235,200C223,223 218,263 230,290C242,317 298,333 310,360C322,387 314,417 300,450C286,483 240,528 225,560C210,592 212,627 210,640" fill="none" stroke="#333" stroke-opacity="0.62" stroke-width="5.5"/><path d="M465,90C454,103 430,149 400,170C370,191 307,198 285,215C263,232 266,256 270,270C274,284 291,300 310,300C329,300 367,266 385,268C403,270 419,290 420,310C421,330 404,358 390,385C376,412 337,448 335,470C333,492 362,508 380,520C398,532 423,528 440,540C457,552 460,587 480,590C500,593 537,585 560,560C583,535 596,480 620,440C644,400 691,340 705,320" fill="none" stroke="#333" stroke-opacity="0.62" stroke-width="5.5"/><path d="M525,110C512,128 466,183 450,220C434,257 438,295 430,330C422,365 402,402 400,430C398,458 407,480 420,500C433,520 460,550 480,550C500,550 520,528 540,500C560,472 570,417 600,380C630,343 700,297 720,280" fill="none" stroke="#333" stroke-opacity="0.62" stroke-width="5.5"/><path d="M575,140C559,157 494,207 480,240C466,273 485,313 490,340C495,367 501,400 510,400C519,400 542,358 545,340C548,322 530,302 530,290C530,278 535,263 545,265C555,267 572,302 590,300C608,298 638,264 650,250C662,236 662,221 665,215" fill="none" stroke="#333" stroke-opacity="0.62" stroke-width="5.5"/><path d="M730,370C715,383 662,418 640,450C618,482 617,533 600,560C583,587 553,592 540,610C527,628 532,652 520,670C508,688 478,708 470,715" fill="none" stroke="#333" stroke-opacity="0.62" stroke-width="5.5"/><path d="M735,430C721,445 668,485 650,520C632,555 633,620 630,640" fill="none" stroke="#333" stroke-opacity="0.62" stroke-width="5.5"/><path d="M180,600C190,591 215,555 240,545C265,535 300,531 330,540C360,549 392,583 420,600C448,617 477,643 500,640C523,637 550,590 560,580" fill="none" stroke="#333" stroke-opacity="0.62" stroke-width="5.5"/><path d="M230,680C247,682 298,684 330,690C362,696 397,711 420,715C443,719 462,715 470,715" fill="none" stroke="#333" stroke-opacity="0.62" stroke-width="5.5"/><circle cx="270" cy="582" r="21" fill="none" stroke="#333" stroke-opacity="0.62" stroke-width="5.5"/><ellipse cx="376" cy="584" rx="22" ry="16" fill="none" stroke="#333" stroke-opacity="0.62" stroke-width="5.5"/><ellipse cx="485" cy="480" rx="15" ry="29" fill="none" stroke="#333" stroke-opacity="0.62" stroke-width="5.5"/>
</g></g>
<line x1="1507.4" y1="153.1" x2="1509.1" y2="149.9" stroke="#1a1a1a" stroke-width="1.4"/>
<line x1="1519.1" y1="153.1" x2="1517.4" y2="149.9" stroke="#1a1a1a" stroke-width="1.4"/>
<line x1="1481.7" y1="176.9" x2="1479.0" y2="175.6" stroke="#1a1a1a" stroke-width="1.2"/>
<line x1="1481.7" y1="192.6" x2="1479.0" y2="193.9" stroke="#1a1a1a" stroke-width="1.2"/>
<line x1="1544.9" y1="176.9" x2="1547.6" y2="175.6" stroke="#1a1a1a" stroke-width="1.2"/>
<line x1="1544.9" y1="192.6" x2="1547.6" y2="193.9" stroke="#1a1a1a" stroke-width="1.2"/>
<circle cx="1513.2592592592594" cy="184.7530864197531" r="32.98765432098765" fill="none" stroke="#222" stroke-width="0.9"/>
<g transform="translate(1430,399) scale(0.09877)">
<clipPath id="tc8"><circle cx="405" cy="406" r="333"/></clipPath>
<g clip-path="url(#tc8)">
<rect x="0" y="0" width="810" height="810" fill="#fff"/><path d="M280,105 L345,70 L410,80 L350,165 Q335,180 320,165 Z" fill="#fce4e4"/><path d="M240,120C248,132 273,174 290,190C307,206 323,215 340,215C357,215 372,211 390,190C408,169 440,107 450,90" fill="none" stroke="#333" stroke-opacity="0.62" stroke-width="5.5"/><path d="M205,145C214,157 239,198 260,215C281,232 305,246 330,245C355,244 387,229 410,210C433,191 445,147 470,130C495,113 545,113 560,110" fill="none" stroke="#333" stroke-opacity="0.62" stroke-width="5.5"/><path d="M180,175C190,186 228,219 240,240C252,261 250,300 255,300C260,300 258,246 270,240C282,234 305,268 330,265C355,262 395,239 420,225C445,211 447,188 480,180C513,172 597,176 620,175" fill="none" stroke="#333" stroke-opacity="0.62" stroke-width="5.5"/><path d="M150,215C161,218 201,218 215,230C229,242 238,277 235,290C232,303 222,310 200,310C178,310 117,293 100,290" fill="none" stroke="#333" stroke-opacity="0.62" stroke-width="5.5"/><ellipse cx="305" cy="275" rx="28" ry="45" transform="rotate(25 305 275)" fill="none" stroke="#333" stroke-opacity="0.62" stroke-width="5.5"/><ellipse cx="282" cy="398" rx="18" ry="13" transform="rotate(30 282 398)" fill="none" stroke="#333" stroke-opacity="0.62" stroke-width="5.5"/><ellipse cx="392" cy="395" rx="22" ry="32" transform="rotate(-15 392 395)" fill="none" stroke="#333" stroke-opacity="0.62" stroke-width="5.5"/><path d="M443,385C443,400 437,417 430,429C423,440 410,450 399,453C388,455 374,450 364,443C354,436 342,423 338,409C335,396 338,376 343,363C347,349 354,334 364,326C373,318 388,313 399,316C411,318 424,329 431,341C438,352 443,370 443,385Z" fill="none" stroke="#333" stroke-opacity="0.62" stroke-width="5.5"/><path d="M90,330C113,330 203,322 230,330C257,338 238,362 250,380C262,398 282,433 300,440C318,447 355,437 360,420C365,403 328,360 330,340C332,320 352,302 370,300C388,298 423,317 440,330C457,343 470,362 470,380C470,398 455,420 440,440C425,460 392,477 380,500C368,523 360,557 370,580C380,603 418,622 440,640C462,658 480,680 500,690C520,700 550,698 560,700" fill="none" stroke="#333" stroke-opacity="0.62" stroke-width="5.5"/><path d="M105,440C109,432 114,401 130,390C146,379 183,368 200,375C217,382 215,417 230,430C245,443 270,450 290,455C310,460 343,448 350,460C357,472 345,513 330,530C315,547 275,545 260,560C245,575 228,600 240,620C252,640 302,662 330,680C358,698 397,718 410,725" fill="none" stroke="#333" stroke-opacity="0.62" stroke-width="5.5"/><path d="M110,545C125,538 170,510 200,500C230,490 267,482 290,485C313,488 337,508 340,520C343,532 315,553 310,560" fill="none" stroke="#333" stroke-opacity="0.62" stroke-width="5.5"/><ellipse cx="240" cy="530" rx="35" ry="16" transform="rotate(-25 240 530)" fill="none" stroke="#333" stroke-opacity="0.62" stroke-width="5.5"/><ellipse cx="282" cy="598" rx="22" ry="20" fill="none" stroke="#333" stroke-opacity="0.62" stroke-width="5.5"/><path d="M700,240C677,248 590,270 560,290C530,310 520,342 520,360C520,378 538,390 560,400C582,410 628,407 650,420C672,433 685,457 690,480C695,503 695,533 680,560C665,587 623,617 600,640C577,663 550,690 540,700" fill="none" stroke="#333" stroke-opacity="0.62" stroke-width="5.5"/><path d="M400,235C408,244 435,272 450,290C465,308 485,322 490,340C495,358 482,390 480,400" fill="none" stroke="#333" stroke-opacity="0.62" stroke-width="5.5"/><path d="M450,200C453,212 462,248 470,270C478,292 497,308 500,330C503,352 497,383 490,400C483,417 465,425 460,430" fill="none" stroke="#333" stroke-opacity="0.62" stroke-width="5.5"/><ellipse cx="560" cy="500" rx="58" ry="26" transform="rotate(-28 560 500)" fill="none" stroke="#333" stroke-opacity="0.62" stroke-width="5.5"/><ellipse cx="552" cy="515" rx="105" ry="50" transform="rotate(-30 552 515)" fill="none" stroke="#333" stroke-opacity="0.62" stroke-width="5.5"/><path d="M440,600C428,588 423,562 430,540C437,518 455,489 480,470C505,451 552,430 580,425C608,420 635,428 650,440C665,452 672,478 670,500C668,522 658,553 640,570C622,587 583,593 560,600C537,607 520,610 500,610C480,610 452,612 440,600Z" fill="none" stroke="#333" stroke-opacity="0.62" stroke-width="5.5"/><path d="M160,600C172,607 207,625 230,640C253,655 288,682 300,690" fill="none" stroke="#333" stroke-opacity="0.62" stroke-width="5.5"/>
</g></g>
<line x1="1464.2" y1="407.5" x2="1465.8" y2="404.3" stroke="#1a1a1a" stroke-width="1.4"/>
<line x1="1475.8" y1="407.5" x2="1474.2" y2="404.3" stroke="#1a1a1a" stroke-width="1.4"/>
<line x1="1438.5" y1="431.3" x2="1435.8" y2="430.0" stroke="#1a1a1a" stroke-width="1.2"/>
<line x1="1438.5" y1="446.9" x2="1435.8" y2="448.2" stroke="#1a1a1a" stroke-width="1.2"/>
<line x1="1501.5" y1="431.3" x2="1504.2" y2="430.0" stroke="#1a1a1a" stroke-width="1.2"/>
<line x1="1501.5" y1="446.9" x2="1504.2" y2="448.2" stroke="#1a1a1a" stroke-width="1.2"/>
<circle cx="1470.0" cy="439.0987654320988" r="32.888888888888886" fill="none" stroke="#222" stroke-width="0.9"/>
<rect x="365.1" y="683.3" width="1207.9" height="125.6" fill="#fff" stroke="#000" stroke-width="2.1"/>
<line x1="379" y1="718.8" x2="452.2" y2="718.8" stroke="#55c81a" stroke-width="3.4"/>
<rect x="379.1" y="761" width="72.9" height="23.9" fill="#ccefb9" stroke="#000" stroke-width="2"/>
<line x1="988.2" y1="718.8" x2="1061.4" y2="718.8" stroke="#cc1414" stroke-width="3.2"/>
<rect x="988.3" y="761" width="72.9" height="23.9" fill="#f0b9b9" stroke="#000" stroke-width="2"/>
<text class="t" x="265.86" y="30.0" textLength="225.61" lengthAdjust="spacingAndGlyphs">Participants</text>
<text class="t" x="506.20" y="30.0" textLength="81.43" lengthAdjust="spacingAndGlyphs">with</text>
<text class="t" x="600.20" y="30.0" textLength="71.79" lengthAdjust="spacingAndGlyphs">SCI</text>
<text class="t" x="1201.71" y="30.0" textLength="140.57" lengthAdjust="spacingAndGlyphs">Control</text>
<text class="t" x="1357.16" y="30.0" textLength="222.43" lengthAdjust="spacingAndGlyphs">participants</text>
<text class="t" x="388.08" y="598.8" textLength="97.58" lengthAdjust="spacingAndGlyphs">Time</text>
<text class="t" x="500.77" y="598.8" textLength="47.10" lengthAdjust="spacingAndGlyphs">(s)</text>
<text class="t" transform="translate(32.5,430.0) rotate(-90)" x="0.00" y="0" textLength="191.16" lengthAdjust="spacingAndGlyphs">Amplitude</text>
<text class="t" transform="translate(32.5,430.0) rotate(-90)" x="207.32" y="0" textLength="82.66" lengthAdjust="spacingAndGlyphs">(<tspan class="i">μ</tspan>V)</text>
<text class="t" x="1310.08" y="598.8" textLength="97.58" lengthAdjust="spacingAndGlyphs">Time</text>
<text class="t" x="1422.78" y="598.8" textLength="47.10" lengthAdjust="spacingAndGlyphs">(s)</text>
<text class="t" transform="translate(954.5,430.0) rotate(-90)" x="0.00" y="0" textLength="191.16" lengthAdjust="spacingAndGlyphs">Amplitude</text>
<text class="t" transform="translate(954.5,430.0) rotate(-90)" x="207.32" y="0" textLength="82.66" lengthAdjust="spacingAndGlyphs">(<tspan class="i">μ</tspan>V)</text>
<text class="t" x="497.96" y="730.6" textLength="117.71" lengthAdjust="spacingAndGlyphs">Grand</text>
<text class="t" x="631.24" y="730.6" textLength="138.52" lengthAdjust="spacingAndGlyphs">average</text>
<text class="t" x="781.87" y="730.6" textLength="127.46" lengthAdjust="spacingAndGlyphs">correct</text>
<text class="t" x="499.22" y="785.7" textLength="41.14" lengthAdjust="spacingAndGlyphs">95</text>
<text class="t" x="549.37" y="785.7" textLength="32.45" lengthAdjust="spacingAndGlyphs">%</text>
<text class="t" x="596.91" y="785.7" textLength="192.07" lengthAdjust="spacingAndGlyphs">confidence</text>
<text class="t" x="802.97" y="785.7" textLength="139.72" lengthAdjust="spacingAndGlyphs">interval</text>
<text class="t" x="1107.16" y="730.6" textLength="117.71" lengthAdjust="spacingAndGlyphs">Grand</text>
<text class="t" x="1240.44" y="730.6" textLength="138.52" lengthAdjust="spacingAndGlyphs">average</text>
<text class="t" x="1391.03" y="730.6" textLength="91.05" lengthAdjust="spacingAndGlyphs">error</text>
<text class="t" x="1108.42" y="785.7" textLength="41.14" lengthAdjust="spacingAndGlyphs">95</text>
<text class="t" x="1158.57" y="785.7" textLength="32.45" lengthAdjust="spacingAndGlyphs">%</text>
<text class="t" x="1206.11" y="785.7" textLength="192.07" lengthAdjust="spacingAndGlyphs">confidence</text>
<text class="t" x="1412.17" y="785.7" textLength="139.72" lengthAdjust="spacingAndGlyphs">interval</text>
<text class="t" x="98.07" y="537.5" textLength="31.15" lengthAdjust="spacingAndGlyphs">−</text>
<text class="t" x="129.93" y="535.4" textLength="54.32" lengthAdjust="spacingAndGlyphs">0.5</text>
<text class="t" x="347.21" y="535.4" textLength="24.09" lengthAdjust="spacingAndGlyphs">0</text>
<text class="t" x="549.92" y="535.4" textLength="54.64" lengthAdjust="spacingAndGlyphs">0.5</text>
<text class="t" x="784.43" y="535.4" textLength="20.86" lengthAdjust="spacingAndGlyphs">1</text>
<text class="t" x="82.64" y="140.1" textLength="44.20" lengthAdjust="spacingAndGlyphs">10</text>
<text class="t" x="104.31" y="219.6" textLength="21.99" lengthAdjust="spacingAndGlyphs">5</text>
<text class="t" x="102.91" y="299.1" textLength="24.09" lengthAdjust="spacingAndGlyphs">0</text>
<text class="t" x="72.39" y="380.0" textLength="30.91" lengthAdjust="spacingAndGlyphs">−</text>
<text class="t" x="104.31" y="376.9" textLength="21.99" lengthAdjust="spacingAndGlyphs">5</text>
<text class="t" x="51.28" y="459.6" textLength="30.98" lengthAdjust="spacingAndGlyphs">−</text>
<text class="t" x="82.64" y="456.0" textLength="44.20" lengthAdjust="spacingAndGlyphs">10</text>
<text class="s" x="732.44" y="367.3" textLength="13.50" lengthAdjust="spacingAndGlyphs">7</text>
<text class="s" x="731.68" y="411.3" textLength="56.86" lengthAdjust="spacingAndGlyphs">0 <tspan class="i">μ</tspan> V</text>
<text class="s" x="726.09" y="455.3" textLength="25.20" lengthAdjust="spacingAndGlyphs">-7</text>
<text class="t" x="1020.07" y="537.5" textLength="31.15" lengthAdjust="spacingAndGlyphs">−</text>
<text class="t" x="1051.93" y="535.4" textLength="54.32" lengthAdjust="spacingAndGlyphs">0.5</text>
<text class="t" x="1269.21" y="535.4" textLength="24.09" lengthAdjust="spacingAndGlyphs">0</text>
<text class="t" x="1471.92" y="535.4" textLength="54.64" lengthAdjust="spacingAndGlyphs">0.5</text>
<text class="t" x="1706.43" y="535.4" textLength="20.86" lengthAdjust="spacingAndGlyphs">1</text>
<text class="t" x="1004.64" y="140.1" textLength="44.20" lengthAdjust="spacingAndGlyphs">10</text>
<text class="t" x="1026.31" y="219.6" textLength="21.99" lengthAdjust="spacingAndGlyphs">5</text>
<text class="t" x="1024.91" y="299.1" textLength="24.09" lengthAdjust="spacingAndGlyphs">0</text>
<text class="t" x="994.39" y="380.0" textLength="30.91" lengthAdjust="spacingAndGlyphs">−</text>
<text class="t" x="1026.31" y="376.9" textLength="21.99" lengthAdjust="spacingAndGlyphs">5</text>
<text class="t" x="973.28" y="459.6" textLength="30.98" lengthAdjust="spacingAndGlyphs">−</text>
<text class="t" x="1004.64" y="456.0" textLength="44.20" lengthAdjust="spacingAndGlyphs">10</text>
<text class="s" x="1654.44" y="367.3" textLength="13.50" lengthAdjust="spacingAndGlyphs">7</text>
<text class="s" x="1653.68" y="411.3" textLength="56.86" lengthAdjust="spacingAndGlyphs">0 <tspan class="i">μ</tspan> V</text>
<text class="s" x="1648.09" y="455.3" textLength="25.20" lengthAdjust="spacingAndGlyphs">-7</text>
</svg></body></html>
